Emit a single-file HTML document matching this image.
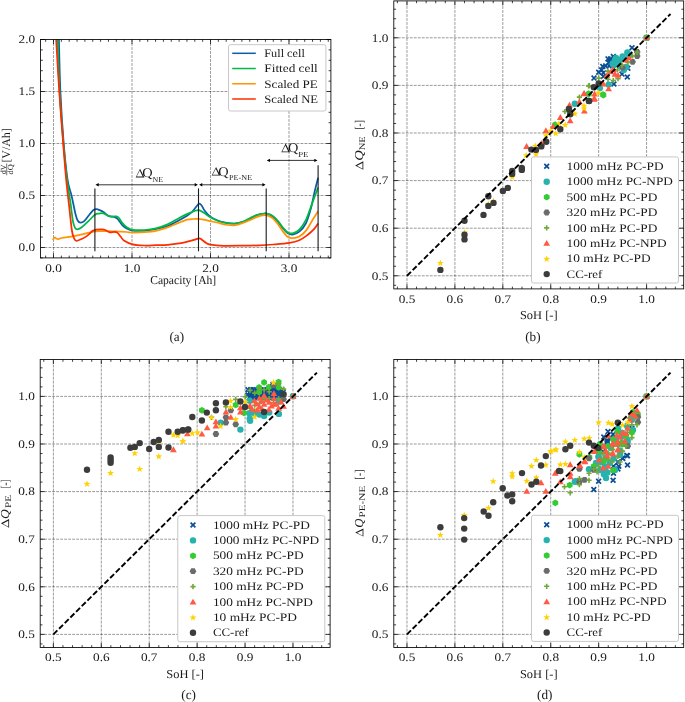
<!DOCTYPE html>
<html><head><meta charset="utf-8"><style>
html,body{margin:0;padding:0;background:#fff;}
svg{display:block;will-change:transform;}
svg text{font-family:"Liberation Serif", serif;text-rendering:geometricPrecision;}
</style></head><body>
<svg width="685" height="702" viewBox="0 0 685 702">
<rect width="685" height="702" fill="#fff"/>
<defs><clipPath id="ca"><rect x="40.5" y="39.5" width="290.4" height="218.4"/></clipPath></defs>
<g stroke="#000" stroke-opacity="0.5" stroke-width="0.8" stroke-dasharray="2.85 1.15"><line x1="53.5" y1="257.9" x2="53.5" y2="39.5"/><line x1="132" y1="257.9" x2="132" y2="39.5"/><line x1="210.5" y1="257.9" x2="210.5" y2="39.5"/><line x1="289" y1="257.9" x2="289" y2="39.5"/><line x1="40.5" y1="247.5" x2="330.9" y2="247.5"/><line x1="40.5" y1="195.5" x2="330.9" y2="195.5"/><line x1="40.5" y1="143.5" x2="330.9" y2="143.5"/><line x1="40.5" y1="91.5" x2="330.9" y2="91.5"/></g>
<g clip-path="url(#ca)"><path d="M58.6 20C58.65 23.13 58.6 26.85 58.9 38.8C59.2 50.75 59.6 74.25 60.4 91.7C61.2 109.15 62.5 128.78 63.7 143.5C64.9 158.22 66.32 171.42 67.6 180C68.88 188.58 70.07 189.25 71.4 195C72.73 200.75 74.53 210.22 75.6 214.5C76.67 218.78 76.98 219.35 77.8 220.7C78.62 222.05 79.43 222.53 80.5 222.6C81.57 222.67 82.7 222.45 84.2 221.1C85.7 219.75 87.95 216.35 89.5 214.5C91.05 212.65 92.33 210.88 93.5 210C94.67 209.12 95.42 209.15 96.5 209.2C97.58 209.25 98.85 209.83 100 210.3C101.15 210.77 101.93 211.05 103.4 212C104.87 212.95 107.02 215.18 108.8 216C110.58 216.82 112.68 216.47 114.1 216.9C115.52 217.33 116.32 217.75 117.3 218.6C118.28 219.45 119.13 220.88 120 222C120.87 223.12 121.38 224.22 122.5 225.3C123.62 226.38 125.03 227.62 126.7 228.5C128.37 229.38 129.58 230.22 132.5 230.6C135.42 230.98 140.3 231.07 144.2 230.8C148.1 230.53 152 229.78 155.9 229C159.8 228.22 163.72 227.55 167.6 226.1C171.48 224.65 175.9 222.05 179.2 220.3C182.5 218.55 185.27 216.98 187.4 215.6C189.53 214.22 190.57 213.43 192 212C193.43 210.57 194.8 208.4 196 207C197.2 205.6 198.28 203.88 199.2 203.6C200.12 203.32 200.55 204.07 201.5 205.3C202.45 206.53 203.43 209.12 204.9 211C206.37 212.88 208.27 215.07 210.3 216.6C212.33 218.13 214.62 219.18 217.1 220.2C219.58 221.22 222.27 222.13 225.2 222.7C228.13 223.27 231.55 223.78 234.7 223.6C237.85 223.42 241.4 222.5 244.1 221.6C246.8 220.7 248.63 219.33 250.9 218.2C253.17 217.07 255.43 215.58 257.7 214.8C259.97 214.02 262.78 213.63 264.5 213.5C266.22 213.37 266.57 213.42 268 214C269.43 214.58 271.43 215.68 273.1 217C274.77 218.32 276.37 220 278 221.9C279.63 223.8 281.27 226.5 282.9 228.4C284.53 230.3 286.17 232.27 287.8 233.3C289.43 234.33 290.78 234.87 292.7 234.6C294.62 234.33 297.12 233.55 299.3 231.7C301.48 229.85 303.88 227.32 305.8 223.5C307.72 219.68 309.28 214.3 310.8 208.8C312.32 203.3 313.68 195.68 314.9 190.5C316.12 185.32 317.57 179.83 318.1 177.7" stroke="#0C5DA5" stroke-width="1.75" fill="none" stroke-linejoin="round"/><path d="M57.4 20C57.43 23.13 57.23 26.85 57.6 38.8C57.97 50.75 58.63 74.25 59.6 91.7C60.57 109.15 62.15 128.78 63.4 143.5C64.65 158.22 65.95 170.35 67.1 180C68.25 189.65 69.32 194.48 70.3 201.4C71.28 208.32 72.18 217.07 73 221.5C73.82 225.93 74.48 226.7 75.2 228C75.92 229.3 76.15 229.47 77.3 229.3C78.45 229.13 80.23 228.37 82.1 227C83.97 225.63 86.37 223.15 88.5 221.1C90.63 219.05 93.12 215.95 94.9 214.7C96.68 213.45 97.78 213.82 99.2 213.6C100.62 213.38 101.8 212.97 103.4 213.4C105 213.83 107.2 215.68 108.8 216.2C110.4 216.72 111.72 216.47 113 216.5C114.28 216.53 115.5 216.15 116.5 216.4C117.5 216.65 118.08 216.97 119 218C119.92 219.03 120.72 221.08 122 222.6C123.28 224.12 124.95 225.9 126.7 227.1C128.45 228.3 129.58 229.32 132.5 229.8C135.42 230.28 140.3 230.23 144.2 230C148.1 229.77 152 229.33 155.9 228.4C159.8 227.47 163.72 226.13 167.6 224.4C171.48 222.67 175.9 219.75 179.2 218C182.5 216.25 184.92 215.03 187.4 213.9C189.88 212.77 192.2 211.83 194.1 211.2C196 210.57 197.23 209.87 198.8 210.1C200.37 210.33 201.58 211.4 203.5 212.6C205.42 213.8 208.03 215.98 210.3 217.3C212.57 218.62 214.62 219.58 217.1 220.5C219.58 221.42 222.27 222.3 225.2 222.8C228.13 223.3 231.55 223.77 234.7 223.5C237.85 223.23 241.4 222.2 244.1 221.2C246.8 220.2 248.63 218.57 250.9 217.5C253.17 216.43 255.43 215.47 257.7 214.8C259.97 214.13 262.78 213.65 264.5 213.5C266.22 213.35 266.57 213.47 268 213.9C269.43 214.33 271.43 214.92 273.1 216.1C274.77 217.28 276.37 219.08 278 221C279.63 222.92 281.27 225.7 282.9 227.6C284.53 229.5 286.17 231.45 287.8 232.4C289.43 233.35 290.78 233.75 292.7 233.3C294.62 232.85 297.12 231.88 299.3 229.7C301.48 227.52 303.88 223.97 305.8 220.2C307.72 216.43 309.28 211.13 310.8 207.1C312.32 203.07 313.68 199.27 314.9 196C316.12 192.73 317.57 188.92 318.1 187.5" stroke="#00B945" stroke-width="1.75" fill="none" stroke-linejoin="round"/><path d="M52.7 239.8C53.05 239.42 54.18 237.7 54.8 237.5C55.42 237.3 55.78 238.33 56.4 238.6C57.02 238.87 57.6 239.2 58.5 239.1C59.4 239 59.65 238.42 61.8 238C63.95 237.58 68.02 237.22 71.4 236.6C74.78 235.98 78.55 235.1 82.1 234.3C85.65 233.5 90.03 232.33 92.7 231.8C95.37 231.27 95.42 231.22 98.1 231.1C100.78 230.98 105.98 231.05 108.8 231.1C111.62 231.15 112.02 231.25 115 231.4C117.98 231.55 123.78 231.82 126.7 232C129.62 232.18 129.58 232.47 132.5 232.5C135.42 232.53 140.3 232.48 144.2 232.2C148.1 231.92 152 231.62 155.9 230.8C159.8 229.98 163.72 228.67 167.6 227.3C171.48 225.93 175.9 223.87 179.2 222.6C182.5 221.33 185.1 220.3 187.4 219.7C189.7 219.1 191.22 219.13 193 219C194.78 218.87 196.35 218.8 198.1 218.9C199.85 219 201.47 219.22 203.5 219.6C205.53 219.98 208.03 220.72 210.3 221.2C212.57 221.68 214.62 221.93 217.1 222.5C219.58 223.07 222.27 224.12 225.2 224.6C228.13 225.08 231.55 225.75 234.7 225.4C237.85 225.05 241.4 223.47 244.1 222.5C246.8 221.53 248.63 220.58 250.9 219.6C253.17 218.62 255.43 217.33 257.7 216.6C259.97 215.87 262.78 215.37 264.5 215.2C266.22 215.03 266.57 215.03 268 215.6C269.43 216.17 271.43 217.15 273.1 218.6C274.77 220.05 276.37 222.15 278 224.3C279.63 226.45 281.27 229.38 282.9 231.5C284.53 233.62 286.17 235.88 287.8 237C289.43 238.12 290.78 238.27 292.7 238.2C294.62 238.13 297.12 237.82 299.3 236.6C301.48 235.38 303.62 233.63 305.8 230.9C307.98 228.17 310.35 223.48 312.4 220.2C314.45 216.92 317.15 212.7 318.1 211.2" stroke="#FF9500" stroke-width="1.75" fill="none" stroke-linejoin="round"/><path d="M55.8 20C55.85 23.13 55.52 26.85 56.1 38.8C56.68 50.75 58.12 74.25 59.3 91.7C60.48 109.15 62.05 128.78 63.2 143.5C64.35 158.22 65.2 169.47 66.2 180C67.2 190.53 68.25 198.28 69.2 206.7C70.15 215.12 71.1 225.23 71.9 230.5C72.7 235.77 73.2 236.58 74 238.3C74.8 240.02 75.35 240.72 76.7 240.8C78.05 240.88 80.32 239.67 82.1 238.8C83.88 237.93 85.63 236.93 87.4 235.6C89.17 234.27 91.27 231.78 92.7 230.8C94.13 229.82 94.38 229.93 96 229.7C97.62 229.47 100.8 229.32 102.4 229.4C104 229.48 104.37 229.7 105.6 230.2C106.83 230.7 108.38 232.1 109.8 232.4C111.22 232.7 112.85 231.97 114.1 232C115.35 232.03 116.18 231.8 117.3 232.6C118.42 233.4 119.63 235.43 120.8 236.8C121.97 238.17 122.35 239.53 124.3 240.8C126.25 242.07 129.18 243.62 132.5 244.4C135.82 245.18 140.3 245.37 144.2 245.5C148.1 245.63 152 245.32 155.9 245.2C159.8 245.08 163.72 245.1 167.6 244.8C171.48 244.5 175.9 243.92 179.2 243.4C182.5 242.88 184.92 242.28 187.4 241.7C189.88 241.12 192.13 240.47 194.1 239.9C196.07 239.33 197.85 238.3 199.2 238.3C200.55 238.3 201.03 239.12 202.2 239.9C203.37 240.68 204.85 242.2 206.2 243C207.55 243.8 207.37 244.23 210.3 244.7C213.23 245.17 218.17 245.65 223.8 245.8C229.43 245.95 238.07 245.67 244.1 245.6C250.13 245.53 255.17 245.58 260 245.4C264.83 245.22 268.18 244.93 273.1 244.5C278.02 244.07 285.13 243.52 289.5 242.8C293.87 242.08 296.3 241.5 299.3 240.2C302.3 238.9 305.05 236.83 307.5 235C309.95 233.17 312.23 231.12 314 229.2C315.77 227.28 317.42 224.45 318.1 223.5" stroke="#FF2C00" stroke-width="1.75" fill="none" stroke-linejoin="round"/></g>
<line x1="94.9" y1="188.4" x2="94.9" y2="251.3" stroke="#1a1a1a" stroke-width="1.1" />
<line x1="198.5" y1="188.4" x2="198.5" y2="251.3" stroke="#1a1a1a" stroke-width="1.1" />
<line x1="266.2" y1="188.4" x2="266.2" y2="251.3" stroke="#1a1a1a" stroke-width="1.1" />
<line x1="318.1" y1="165.2" x2="318.1" y2="251.3" stroke="#1a1a1a" stroke-width="1.1" />
<line x1="97.4" y1="184.8" x2="196" y2="184.8" stroke="#000" stroke-width="0.8" />
<path d="M95.5 184.8L98.7 183.1L98.7 186.5Z M197.9 184.8L194.7 183.1L194.7 186.5Z" fill="#000"/>
<line x1="201" y1="184.8" x2="263.7" y2="184.8" stroke="#000" stroke-width="0.8" />
<path d="M199.1 184.8L202.3 183.1L202.3 186.5Z M265.6 184.8L262.4 183.1L262.4 186.5Z" fill="#000"/>
<line x1="268.7" y1="160.4" x2="315.6" y2="160.4" stroke="#000" stroke-width="0.8" />
<path d="M266.8 160.4L270 158.7L270 162.1Z M317.5 160.4L314.3 158.7L314.3 162.1Z" fill="#000"/>
<path d="M135.7 177.4L144.4 177.4L140.05 168.7ZM136.65 176.6L142.65 176.6L139.75 170.6Z" fill="#1a1a1a" fill-rule="evenodd"/>
<text x="142.3" y="177.4" font-size="13.2" fill="#1a1a1a" textLength="10.4" lengthAdjust="spacingAndGlyphs">Q</text>
<text x="152.6" y="181.6" font-size="7.8" fill="#1a1a1a" textLength="10.5" lengthAdjust="spacingAndGlyphs">NE</text>
<path d="M211.7 175.6L220.4 175.6L216.05 166.9ZM212.65 174.8L218.65 174.8L215.75 168.8Z" fill="#1a1a1a" fill-rule="evenodd"/>
<text x="218.3" y="175.6" font-size="13.2" fill="#1a1a1a" textLength="10.4" lengthAdjust="spacingAndGlyphs">Q</text>
<text x="229.1" y="180.3" font-size="7.8" fill="#1a1a1a" textLength="23" lengthAdjust="spacingAndGlyphs">PE-NE</text>
<path d="M281.3 152.3L290 152.3L285.65 143.6ZM282.25 151.5L288.25 151.5L285.35 145.5Z" fill="#1a1a1a" fill-rule="evenodd"/>
<text x="288" y="152.3" font-size="13.2" fill="#1a1a1a" textLength="10.4" lengthAdjust="spacingAndGlyphs">Q</text>
<text x="298.2" y="156.9" font-size="7.8" fill="#1a1a1a" textLength="10.3" lengthAdjust="spacingAndGlyphs">PE</text>
<path d="M53.5 257.9v-4.5M53.5 39.5v4.5M132 257.9v-4.5M132 39.5v4.5M210.5 257.9v-4.5M210.5 39.5v4.5M289 257.9v-4.5M289 39.5v4.5M45.65 257.9v-2.3M45.65 39.5v2.3M61.35 257.9v-2.3M61.35 39.5v2.3M69.2 257.9v-2.3M69.2 39.5v2.3M77.05 257.9v-2.3M77.05 39.5v2.3M84.9 257.9v-2.3M84.9 39.5v2.3M92.75 257.9v-2.3M92.75 39.5v2.3M100.6 257.9v-2.3M100.6 39.5v2.3M108.45 257.9v-2.3M108.45 39.5v2.3M116.3 257.9v-2.3M116.3 39.5v2.3M124.15 257.9v-2.3M124.15 39.5v2.3M139.85 257.9v-2.3M139.85 39.5v2.3M147.7 257.9v-2.3M147.7 39.5v2.3M155.55 257.9v-2.3M155.55 39.5v2.3M163.4 257.9v-2.3M163.4 39.5v2.3M171.25 257.9v-2.3M171.25 39.5v2.3M179.1 257.9v-2.3M179.1 39.5v2.3M186.95 257.9v-2.3M186.95 39.5v2.3M194.8 257.9v-2.3M194.8 39.5v2.3M202.65 257.9v-2.3M202.65 39.5v2.3M218.35 257.9v-2.3M218.35 39.5v2.3M226.2 257.9v-2.3M226.2 39.5v2.3M234.05 257.9v-2.3M234.05 39.5v2.3M241.9 257.9v-2.3M241.9 39.5v2.3M249.75 257.9v-2.3M249.75 39.5v2.3M257.6 257.9v-2.3M257.6 39.5v2.3M265.45 257.9v-2.3M265.45 39.5v2.3M273.3 257.9v-2.3M273.3 39.5v2.3M281.15 257.9v-2.3M281.15 39.5v2.3M296.85 257.9v-2.3M296.85 39.5v2.3M304.7 257.9v-2.3M304.7 39.5v2.3M312.55 257.9v-2.3M312.55 39.5v2.3M320.4 257.9v-2.3M320.4 39.5v2.3M328.25 257.9v-2.3M328.25 39.5v2.3M40.5 247.5h4.5M330.9 247.5h-4.5M40.5 195.5h4.5M330.9 195.5h-4.5M40.5 143.5h4.5M330.9 143.5h-4.5M40.5 91.5h4.5M330.9 91.5h-4.5M40.5 39.5h4.5M330.9 39.5h-4.5M40.5 257.9h2.3M330.9 257.9h-2.3M40.5 237.1h2.3M330.9 237.1h-2.3M40.5 226.7h2.3M330.9 226.7h-2.3M40.5 216.3h2.3M330.9 216.3h-2.3M40.5 205.9h2.3M330.9 205.9h-2.3M40.5 185.1h2.3M330.9 185.1h-2.3M40.5 174.7h2.3M330.9 174.7h-2.3M40.5 164.3h2.3M330.9 164.3h-2.3M40.5 153.9h2.3M330.9 153.9h-2.3M40.5 133.1h2.3M330.9 133.1h-2.3M40.5 122.7h2.3M330.9 122.7h-2.3M40.5 112.3h2.3M330.9 112.3h-2.3M40.5 101.9h2.3M330.9 101.9h-2.3M40.5 81.1h2.3M330.9 81.1h-2.3M40.5 70.7h2.3M330.9 70.7h-2.3M40.5 60.3h2.3M330.9 60.3h-2.3M40.5 49.9h2.3M330.9 49.9h-2.3" stroke="#000" stroke-width="0.75" fill="none"/>
<rect x="40.5" y="39.5" width="290.4" height="218.4" fill="none" stroke="#000" stroke-width="0.85"/>
<text x="53.5" y="271.5" font-size="11.6" text-anchor="middle" fill="#1a1a1a" textLength="16.6" lengthAdjust="spacingAndGlyphs" >0.0</text>
<text x="132" y="271.5" font-size="11.6" text-anchor="middle" fill="#1a1a1a" textLength="16.6" lengthAdjust="spacingAndGlyphs" >1.0</text>
<text x="210.5" y="271.5" font-size="11.6" text-anchor="middle" fill="#1a1a1a" textLength="16.6" lengthAdjust="spacingAndGlyphs" >2.0</text>
<text x="289" y="271.5" font-size="11.6" text-anchor="middle" fill="#1a1a1a" textLength="16.6" lengthAdjust="spacingAndGlyphs" >3.0</text>
<text x="35.1" y="251.4" font-size="11.6" text-anchor="end" fill="#1a1a1a" textLength="16.6" lengthAdjust="spacingAndGlyphs" >0.0</text>
<text x="35.1" y="199.4" font-size="11.6" text-anchor="end" fill="#1a1a1a" textLength="16.6" lengthAdjust="spacingAndGlyphs" >0.5</text>
<text x="35.1" y="147.4" font-size="11.6" text-anchor="end" fill="#1a1a1a" textLength="16.6" lengthAdjust="spacingAndGlyphs" >1.0</text>
<text x="35.1" y="95.4" font-size="11.6" text-anchor="end" fill="#1a1a1a" textLength="16.6" lengthAdjust="spacingAndGlyphs" >1.5</text>
<text x="35.1" y="43.4" font-size="11.6" text-anchor="end" fill="#1a1a1a" textLength="16.6" lengthAdjust="spacingAndGlyphs" >2.0</text>
<rect x="228.5" y="44.7" width="97.4" height="66.3" rx="2" fill="#fff" stroke="#c8c8c8" stroke-width="1"/>
<line x1="232.2" y1="53.3" x2="255.8" y2="53.3" stroke="#0C5DA5" stroke-width="1.5" />
<text x="264.3" y="57.1" font-size="11.5" text-anchor="start" fill="#1a1a1a" textLength="40.5" lengthAdjust="spacingAndGlyphs" >Full cell</text>
<line x1="232.2" y1="68.53" x2="255.8" y2="68.53" stroke="#00B945" stroke-width="1.5" />
<text x="264.3" y="72.33" font-size="11.5" text-anchor="start" fill="#1a1a1a" textLength="53.5" lengthAdjust="spacingAndGlyphs" >Fitted cell</text>
<line x1="232.2" y1="83.76" x2="255.8" y2="83.76" stroke="#FF9500" stroke-width="1.5" />
<text x="264.3" y="87.56" font-size="11.5" text-anchor="start" fill="#1a1a1a" textLength="53.5" lengthAdjust="spacingAndGlyphs" >Scaled PE</text>
<line x1="232.2" y1="98.99" x2="255.8" y2="98.99" stroke="#FF2C00" stroke-width="1.5" />
<text x="264.3" y="102.79" font-size="11.5" text-anchor="start" fill="#1a1a1a" textLength="53.8" lengthAdjust="spacingAndGlyphs" >Scaled NE</text>
<text x="183.2" y="284.2" font-size="12" text-anchor="middle" fill="#1a1a1a" textLength="66" lengthAdjust="spacingAndGlyphs" >Capacity [Ah]</text>
<g transform="translate(10.3,162.6) rotate(-90)"><text x="0" y="0" font-size="11.8" fill="#1a1a1a" textLength="34.3" lengthAdjust="spacingAndGlyphs">[V/Ah]</text></g>
<g transform="translate(6.7,169.4) rotate(-90)" fill="#1a1a1a"><text x="0" y="-1.2" font-size="7.8" text-anchor="middle" textLength="9.6" lengthAdjust="spacingAndGlyphs">dV</text><text x="0" y="6.6" font-size="7.8" text-anchor="middle" textLength="10.2" lengthAdjust="spacingAndGlyphs">dQ</text><line x1="-5.9" y1="0" x2="5.9" y2="0" stroke="#1a1a1a" stroke-width="0.6"/></g>
<text x="176.75" y="341.2" font-size="13.2" text-anchor="middle" fill="#1a1a1a" >(a)</text>
<defs><clipPath id="cb"><rect x="393.8" y="0.9" width="289.9" height="288.0"/></clipPath></defs>
<g stroke="#000" stroke-opacity="0.5" stroke-width="0.8" stroke-dasharray="2.85 1.15"><line x1="406.98" y1="288.9" x2="406.98" y2="0.9"/><line x1="454.9" y1="288.9" x2="454.9" y2="0.9"/><line x1="502.82" y1="288.9" x2="502.82" y2="0.9"/><line x1="550.74" y1="288.9" x2="550.74" y2="0.9"/><line x1="598.66" y1="288.9" x2="598.66" y2="0.9"/><line x1="646.58" y1="288.9" x2="646.58" y2="0.9"/><line x1="393.8" y1="275.79" x2="683.7" y2="275.79"/><line x1="393.8" y1="228.19" x2="683.7" y2="228.19"/><line x1="393.8" y1="180.59" x2="683.7" y2="180.59"/><line x1="393.8" y1="132.99" x2="683.7" y2="132.99"/><line x1="393.8" y1="85.39" x2="683.7" y2="85.39"/><line x1="393.8" y1="37.79" x2="683.7" y2="37.79"/></g>
<g clip-path="url(#cb)"><path d="M591.6 75.7L596.4 80.5M591.6 80.5L596.4 75.7" stroke="#0B4E96" stroke-width="1.7" fill="none"/><path d="M596.3 69.9L601.1 74.7M596.3 74.7L601.1 69.9" stroke="#0B4E96" stroke-width="1.7" fill="none"/><path d="M600.4 64.1L605.2 68.9M600.4 68.9L605.2 64.1" stroke="#0B4E96" stroke-width="1.7" fill="none"/><path d="M601 70.5L605.8 75.3M601 75.3L605.8 70.5" stroke="#0B4E96" stroke-width="1.7" fill="none"/><path d="M605.6 56.5L610.4 61.3M605.6 61.3L610.4 56.5" stroke="#0B4E96" stroke-width="1.7" fill="none"/><path d="M606.2 60L611 64.8M606.2 64.8L611 60" stroke="#0B4E96" stroke-width="1.7" fill="none"/><path d="M610.9 54.1L615.7 58.9M610.9 58.9L615.7 54.1" stroke="#0B4E96" stroke-width="1.7" fill="none"/><path d="M609.1 61.1L613.9 65.9M609.1 65.9L613.9 61.1" stroke="#0B4E96" stroke-width="1.7" fill="none"/><path d="M603.3 63.5L608.1 68.3M603.3 68.3L608.1 63.5" stroke="#0B4E96" stroke-width="1.7" fill="none"/><path d="M601 74L605.8 78.8M601 78.8L605.8 74" stroke="#0B4E96" stroke-width="1.7" fill="none"/><path d="M611.5 81.6L616.3 86.4M611.5 86.4L616.3 81.6" stroke="#0B4E96" stroke-width="1.7" fill="none"/><path d="M619.6 71.7L624.4 76.5M619.6 76.5L624.4 71.7" stroke="#0B4E96" stroke-width="1.7" fill="none"/><path d="M624.9 74.6L629.7 79.4M624.9 79.4L629.7 74.6" stroke="#0B4E96" stroke-width="1.7" fill="none"/><path d="M625.5 65.8L630.3 70.6M625.5 70.6L630.3 65.8" stroke="#0B4E96" stroke-width="1.7" fill="none"/><path d="M629.6 45.4L634.4 50.2M629.6 50.2L634.4 45.4" stroke="#0B4E96" stroke-width="1.7" fill="none"/><path d="M599.2 67.6L604 72.4M599.2 72.4L604 67.6" stroke="#0B4E96" stroke-width="1.7" fill="none"/><path d="M606.8 63.5L611.6 68.3M606.8 68.3L611.6 63.5" stroke="#0B4E96" stroke-width="1.7" fill="none"/><path d="M608 56.5L612.8 61.3M608 61.3L612.8 56.5" stroke="#0B4E96" stroke-width="1.7" fill="none"/><path d="M644.2 35.4L649 40.2M644.2 40.2L649 35.4" stroke="#0B4E96" stroke-width="1.7" fill="none"/><circle cx="574.8" cy="103.7" r="3.2" fill="#26B3B0"/><circle cx="615" cy="60" r="3.2" fill="#26B3B0"/><circle cx="618.5" cy="61.2" r="3.2" fill="#26B3B0"/><circle cx="622.6" cy="56.5" r="3.2" fill="#26B3B0"/><circle cx="627.3" cy="52.4" r="3.2" fill="#26B3B0"/><circle cx="623.8" cy="70" r="3.2" fill="#26B3B0"/><circle cx="608.6" cy="84.6" r="3.2" fill="#26B3B0"/><circle cx="613.9" cy="65.3" r="3.2" fill="#26B3B0"/><circle cx="599.9" cy="88.1" r="3.2" fill="#26B3B0"/><circle cx="619.7" cy="60" r="3.2" fill="#26B3B0"/><circle cx="629.1" cy="55.4" r="3.2" fill="#26B3B0"/><circle cx="626.1" cy="67" r="3.2" fill="#26B3B0"/><circle cx="612.7" cy="63.5" r="3.2" fill="#26B3B0"/><circle cx="616" cy="58" r="3.2" fill="#26B3B0"/><circle cx="620" cy="66" r="3.2" fill="#26B3B0"/><circle cx="646.6" cy="37.8" r="3.2" fill="#26B3B0"/><polygon points="555.1,121.35 552.2,123.03 552.2,126.38 555.1,128.05 558,126.38 558,123.03" fill="#33CC33"/><polygon points="569.5,107.55 566.6,109.23 566.6,112.58 569.5,114.25 572.4,112.58 572.4,109.23" fill="#33CC33"/><polygon points="588.6,90.45 585.7,92.12 585.7,95.47 588.6,97.15 591.5,95.47 591.5,92.12" fill="#33CC33"/><polygon points="603,91.15 600.1,92.83 600.1,96.17 603,97.85 605.9,96.17 605.9,92.83" fill="#33CC33"/><polygon points="603.4,91.75 600.5,93.42 600.5,96.77 603.4,98.45 606.3,96.77 606.3,93.42" fill="#33CC33"/><polygon points="588.8,90.55 585.9,92.23 585.9,95.58 588.8,97.25 591.7,95.58 591.7,92.23" fill="#33CC33"/><polygon points="646.6,34.45 643.7,36.12 643.7,39.47 646.6,41.15 649.5,39.48 649.5,36.12" fill="#33CC33"/><polygon points="640.55,51.9 638.88,49 635.53,49 633.85,51.9 635.53,54.8 638.88,54.8" fill="#6B6B6B"/><polygon points="640.55,56 638.88,53.1 635.53,53.1 633.85,56 635.53,58.9 638.88,58.9" fill="#6B6B6B"/><polygon points="635.95,61.8 634.27,58.9 630.93,58.9 629.25,61.8 630.93,64.7 634.27,64.7" fill="#6B6B6B"/><polygon points="625.95,67.6 624.27,64.7 620.93,64.7 619.25,67.6 620.93,70.5 624.27,70.5" fill="#6B6B6B"/><path d="M562.3 111.5h5.2M564.9 108.9v5.2" stroke="#72A83A" stroke-width="1.6" fill="none"/><path d="M576.8 97.1h5.2M579.4 94.5v5.2" stroke="#72A83A" stroke-width="1.6" fill="none"/><path d="M586 85.9h5.2M588.6 83.3v5.2" stroke="#72A83A" stroke-width="1.6" fill="none"/><path d="M596.1 78.1h5.2M598.7 75.5v5.2" stroke="#72A83A" stroke-width="1.6" fill="none"/><path d="M605.4 71.1h5.2M608 68.5v5.2" stroke="#72A83A" stroke-width="1.6" fill="none"/><path d="M605.4 79.3h5.2M608 76.7v5.2" stroke="#72A83A" stroke-width="1.6" fill="none"/><path d="M610.7 80.5h5.2M613.3 77.9v5.2" stroke="#72A83A" stroke-width="1.6" fill="none"/><path d="M615.4 78.7h5.2M618 76.1v5.2" stroke="#72A83A" stroke-width="1.6" fill="none"/><path d="M614.8 70h5.2M617.4 67.4v5.2" stroke="#72A83A" stroke-width="1.6" fill="none"/><path d="M619.4 65.3h5.2M622 62.7v5.2" stroke="#72A83A" stroke-width="1.6" fill="none"/><path d="M625.3 62.4h5.2M627.9 59.8v5.2" stroke="#72A83A" stroke-width="1.6" fill="none"/><path d="M630 56h5.2M632.6 53.4v5.2" stroke="#72A83A" stroke-width="1.6" fill="none"/><path d="M634.6 52.4h5.2M637.2 49.8v5.2" stroke="#72A83A" stroke-width="1.6" fill="none"/><path d="M586.7 85.7h5.2M589.3 83.1v5.2" stroke="#72A83A" stroke-width="1.6" fill="none"/><path d="M644 37.8h5.2M646.6 35.2v5.2" stroke="#72A83A" stroke-width="1.6" fill="none"/><polygon points="526.6,143.1 523.22,148.95 529.98,148.95" fill="#FF5A43"/><polygon points="541.9,139.8 538.52,145.65 545.28,145.65" fill="#FF5A43"/><polygon points="545.9,127.3 542.52,133.15 549.28,133.15" fill="#FF5A43"/><polygon points="553,123.2 549.62,129.05 556.38,129.05" fill="#FF5A43"/><polygon points="560.3,114.1 556.92,119.95 563.68,119.95" fill="#FF5A43"/><polygon points="570.2,117.4 566.82,123.25 573.58,123.25" fill="#FF5A43"/><polygon points="569.5,101.7 566.12,107.55 572.88,107.55" fill="#FF5A43"/><polygon points="579.4,98.4 576.02,104.25 582.78,104.25" fill="#FF5A43"/><polygon points="584.4,107.6 581.02,113.45 587.78,113.45" fill="#FF5A43"/><polygon points="584,90.5 580.62,96.35 587.38,96.35" fill="#FF5A43"/><polygon points="593.8,95.8 590.42,101.65 597.18,101.65" fill="#FF5A43"/><polygon points="613.3,66.1 609.92,71.95 616.68,71.95" fill="#FF5A43"/><polygon points="606.9,71.9 603.52,77.75 610.28,77.75" fill="#FF5A43"/><polygon points="618,71.9 614.62,77.75 621.38,77.75" fill="#FF5A43"/><polygon points="603.4,80.7 600.02,86.55 606.78,86.55" fill="#FF5A43"/><polygon points="629.1,54.4 625.72,60.25 632.48,60.25" fill="#FF5A43"/><polygon points="608.6,85.4 605.22,91.25 611.98,91.25" fill="#FF5A43"/><polygon points="594.6,90.6 591.22,96.45 597.98,96.45" fill="#FF5A43"/><polygon points="584.1,90 580.72,95.85 587.48,95.85" fill="#FF5A43"/><polygon points="594.6,95.3 591.22,101.15 597.98,101.15" fill="#FF5A43"/><polygon points="611,68.4 607.62,74.25 614.38,74.25" fill="#FF5A43"/><polygon points="615,70.8 611.62,76.65 618.38,76.65" fill="#FF5A43"/><polygon points="625.5,56.7 622.12,62.55 628.88,62.55" fill="#FF5A43"/><polygon points="646.6,34.5 643.22,40.35 649.98,40.35" fill="#FF5A43"/><polygon points="440.4,259.5 439.52,261.89 436.98,261.99 438.97,263.56 438.28,266.01 440.4,264.6 442.52,266.01 441.83,263.56 443.82,261.99 441.28,261.89" fill="#FFD200"/><polygon points="464.5,229.1 463.62,231.49 461.08,231.59 463.07,233.16 462.38,235.61 464.5,234.2 466.62,235.61 465.93,233.16 467.92,231.59 465.38,231.49" fill="#FFD200"/><polygon points="488.3,200.6 487.42,202.99 484.88,203.09 486.87,204.66 486.18,207.11 488.3,205.7 490.42,207.11 489.73,204.66 491.72,203.09 489.18,202.99" fill="#FFD200"/><polygon points="493.5,197.6 492.62,199.99 490.08,200.09 492.07,201.66 491.38,204.11 493.5,202.7 495.62,204.11 494.93,201.66 496.92,200.09 494.38,199.99" fill="#FFD200"/><polygon points="512.2,173.6 511.32,175.99 508.78,176.09 510.77,177.66 510.08,180.11 512.2,178.7 514.32,180.11 513.63,177.66 515.62,176.09 513.08,175.99" fill="#FFD200"/><polygon points="526.2,151.9 525.32,154.29 522.78,154.39 524.77,155.96 524.08,158.41 526.2,157 528.32,158.41 527.63,155.96 529.62,154.39 527.08,154.29" fill="#FFD200"/><polygon points="536,150.9 535.12,153.29 532.58,153.39 534.57,154.96 533.88,157.41 536,156 538.12,157.41 537.43,154.96 539.42,153.39 536.88,153.29" fill="#FFD200"/><polygon points="535.4,142.4 534.52,144.79 531.98,144.89 533.97,146.46 533.28,148.91 535.4,147.5 537.52,148.91 536.83,146.46 538.82,144.89 536.28,144.79" fill="#FFD200"/><polygon points="545.9,131.9 545.02,134.29 542.48,134.39 544.47,135.96 543.78,138.41 545.9,137 548.02,138.41 547.33,135.96 549.32,134.39 546.78,134.29" fill="#FFD200"/><polygon points="550.5,127.3 549.62,129.69 547.08,129.79 549.07,131.36 548.38,133.81 550.5,132.4 552.62,133.81 551.93,131.36 553.92,129.79 551.38,129.69" fill="#FFD200"/><polygon points="555.7,129.9 554.82,132.29 552.28,132.39 554.27,133.96 553.58,136.41 555.7,135 557.82,136.41 557.13,133.96 559.12,132.39 556.58,132.29" fill="#FFD200"/><polygon points="559,120.1 558.12,122.49 555.58,122.59 557.57,124.16 556.88,126.61 559,125.2 561.12,126.61 560.43,124.16 562.42,122.59 559.88,122.49" fill="#FFD200"/><polygon points="565.2,121.4 564.32,123.79 561.78,123.89 563.77,125.46 563.08,127.91 565.2,126.5 567.32,127.91 566.63,125.46 568.62,123.89 566.08,123.79" fill="#FFD200"/><polygon points="574.8,110.2 573.92,112.59 571.38,112.69 573.37,114.26 572.68,116.71 574.8,115.3 576.92,116.71 576.23,114.26 578.22,112.69 575.68,112.59" fill="#FFD200"/><polygon points="584,102.3 583.12,104.69 580.58,104.79 582.57,106.36 581.88,108.81 584,107.4 586.12,108.81 585.43,106.36 587.42,104.79 584.88,104.69" fill="#FFD200"/><polygon points="584,105 583.12,107.39 580.58,107.49 582.57,109.06 581.88,111.51 584,110.1 586.12,111.51 585.43,109.06 587.42,107.49 584.88,107.39" fill="#FFD200"/><polygon points="598.4,89.2 597.52,91.59 594.98,91.69 596.97,93.26 596.28,95.71 598.4,94.3 600.52,95.71 599.83,93.26 601.82,91.69 599.28,91.59" fill="#FFD200"/><circle cx="440.4" cy="269.9" r="3.2" fill="#3C3C3C"/><circle cx="464.5" cy="220.8" r="3.2" fill="#3C3C3C"/><circle cx="464.5" cy="234.8" r="3.2" fill="#3C3C3C"/><circle cx="464.5" cy="239.4" r="3.2" fill="#3C3C3C"/><circle cx="483.5" cy="214.9" r="3.2" fill="#3C3C3C"/><circle cx="488.3" cy="196.3" r="3.2" fill="#3C3C3C"/><circle cx="488.3" cy="205.9" r="3.2" fill="#3C3C3C"/><circle cx="493.5" cy="202.9" r="3.2" fill="#3C3C3C"/><circle cx="502.9" cy="190.9" r="3.2" fill="#3C3C3C"/><circle cx="507.8" cy="187.9" r="3.2" fill="#3C3C3C"/><circle cx="512.2" cy="170.9" r="3.2" fill="#3C3C3C"/><circle cx="512.2" cy="173.9" r="3.2" fill="#3C3C3C"/><circle cx="521.8" cy="167.9" r="3.2" fill="#3C3C3C"/><circle cx="521.8" cy="169.9" r="3.2" fill="#3C3C3C"/><circle cx="531.4" cy="149.6" r="3.2" fill="#3C3C3C"/><circle cx="536" cy="149.9" r="3.2" fill="#3C3C3C"/><circle cx="541.3" cy="146.4" r="3.2" fill="#3C3C3C"/><circle cx="546.3" cy="141.8" r="3.2" fill="#3C3C3C"/><circle cx="560.3" cy="129.3" r="3.2" fill="#3C3C3C"/><circle cx="568.9" cy="108.9" r="3.2" fill="#3C3C3C"/><circle cx="570.2" cy="114.2" r="3.2" fill="#3C3C3C"/><circle cx="589.2" cy="101" r="3.2" fill="#3C3C3C"/><circle cx="593.8" cy="87.2" r="3.2" fill="#3C3C3C"/><circle cx="598.7" cy="83.4" r="3.2" fill="#3C3C3C"/><circle cx="588.8" cy="100.9" r="3.2" fill="#3C3C3C"/></g>
<line x1="406.98" y1="275.79" x2="670.54" y2="13.99" stroke="#000" stroke-width="1.9" stroke-dasharray="5.6 2.4"/>
<path d="M406.98 288.9v-4.5M406.98 0.9v4.5M454.9 288.9v-4.5M454.9 0.9v4.5M502.82 288.9v-4.5M502.82 0.9v4.5M550.74 288.9v-4.5M550.74 0.9v4.5M598.66 288.9v-4.5M598.66 0.9v4.5M646.58 288.9v-4.5M646.58 0.9v4.5M397.39 288.9v-2.3M397.39 0.9v2.3M416.56 288.9v-2.3M416.56 0.9v2.3M426.15 288.9v-2.3M426.15 0.9v2.3M435.73 288.9v-2.3M435.73 0.9v2.3M445.31 288.9v-2.3M445.31 0.9v2.3M464.48 288.9v-2.3M464.48 0.9v2.3M474.07 288.9v-2.3M474.07 0.9v2.3M483.65 288.9v-2.3M483.65 0.9v2.3M493.23 288.9v-2.3M493.23 0.9v2.3M512.4 288.9v-2.3M512.4 0.9v2.3M521.99 288.9v-2.3M521.99 0.9v2.3M531.57 288.9v-2.3M531.57 0.9v2.3M541.15 288.9v-2.3M541.15 0.9v2.3M560.32 288.9v-2.3M560.32 0.9v2.3M569.91 288.9v-2.3M569.91 0.9v2.3M579.49 288.9v-2.3M579.49 0.9v2.3M589.07 288.9v-2.3M589.07 0.9v2.3M608.24 288.9v-2.3M608.24 0.9v2.3M617.83 288.9v-2.3M617.83 0.9v2.3M627.41 288.9v-2.3M627.41 0.9v2.3M636.99 288.9v-2.3M636.99 0.9v2.3M656.16 288.9v-2.3M656.16 0.9v2.3M665.75 288.9v-2.3M665.75 0.9v2.3M675.33 288.9v-2.3M675.33 0.9v2.3M393.8 275.79h4.5M683.7 275.79h-4.5M393.8 228.19h4.5M683.7 228.19h-4.5M393.8 180.59h4.5M683.7 180.59h-4.5M393.8 132.99h4.5M683.7 132.99h-4.5M393.8 85.39h4.5M683.7 85.39h-4.5M393.8 37.79h4.5M683.7 37.79h-4.5M393.8 285.31h2.3M683.7 285.31h-2.3M393.8 266.27h2.3M683.7 266.27h-2.3M393.8 256.75h2.3M683.7 256.75h-2.3M393.8 247.23h2.3M683.7 247.23h-2.3M393.8 237.71h2.3M683.7 237.71h-2.3M393.8 218.67h2.3M683.7 218.67h-2.3M393.8 209.15h2.3M683.7 209.15h-2.3M393.8 199.63h2.3M683.7 199.63h-2.3M393.8 190.11h2.3M683.7 190.11h-2.3M393.8 171.07h2.3M683.7 171.07h-2.3M393.8 161.55h2.3M683.7 161.55h-2.3M393.8 152.03h2.3M683.7 152.03h-2.3M393.8 142.51h2.3M683.7 142.51h-2.3M393.8 123.47h2.3M683.7 123.47h-2.3M393.8 113.95h2.3M683.7 113.95h-2.3M393.8 104.43h2.3M683.7 104.43h-2.3M393.8 94.91h2.3M683.7 94.91h-2.3M393.8 75.87h2.3M683.7 75.87h-2.3M393.8 66.35h2.3M683.7 66.35h-2.3M393.8 56.83h2.3M683.7 56.83h-2.3M393.8 47.31h2.3M683.7 47.31h-2.3M393.8 28.27h2.3M683.7 28.27h-2.3M393.8 18.75h2.3M683.7 18.75h-2.3M393.8 9.23h2.3M683.7 9.23h-2.3" stroke="#000" stroke-width="0.75" fill="none"/>
<rect x="393.8" y="0.9" width="289.9" height="288" fill="none" stroke="#000" stroke-width="0.85"/>
<text x="406.98" y="302.5" font-size="11.6" text-anchor="middle" fill="#1a1a1a" textLength="16.6" lengthAdjust="spacingAndGlyphs" >0.5</text>
<text x="454.9" y="302.5" font-size="11.6" text-anchor="middle" fill="#1a1a1a" textLength="16.6" lengthAdjust="spacingAndGlyphs" >0.6</text>
<text x="502.82" y="302.5" font-size="11.6" text-anchor="middle" fill="#1a1a1a" textLength="16.6" lengthAdjust="spacingAndGlyphs" >0.7</text>
<text x="550.74" y="302.5" font-size="11.6" text-anchor="middle" fill="#1a1a1a" textLength="16.6" lengthAdjust="spacingAndGlyphs" >0.8</text>
<text x="598.66" y="302.5" font-size="11.6" text-anchor="middle" fill="#1a1a1a" textLength="16.6" lengthAdjust="spacingAndGlyphs" >0.9</text>
<text x="646.58" y="302.5" font-size="11.6" text-anchor="middle" fill="#1a1a1a" textLength="16.6" lengthAdjust="spacingAndGlyphs" >1.0</text>
<text x="388.4" y="279.69" font-size="11.6" text-anchor="end" fill="#1a1a1a" textLength="16.6" lengthAdjust="spacingAndGlyphs" >0.5</text>
<text x="388.4" y="232.09" font-size="11.6" text-anchor="end" fill="#1a1a1a" textLength="16.6" lengthAdjust="spacingAndGlyphs" >0.6</text>
<text x="388.4" y="184.49" font-size="11.6" text-anchor="end" fill="#1a1a1a" textLength="16.6" lengthAdjust="spacingAndGlyphs" >0.7</text>
<text x="388.4" y="136.89" font-size="11.6" text-anchor="end" fill="#1a1a1a" textLength="16.6" lengthAdjust="spacingAndGlyphs" >0.8</text>
<text x="388.4" y="89.29" font-size="11.6" text-anchor="end" fill="#1a1a1a" textLength="16.6" lengthAdjust="spacingAndGlyphs" >0.9</text>
<text x="388.4" y="41.69" font-size="11.6" text-anchor="end" fill="#1a1a1a" textLength="16.6" lengthAdjust="spacingAndGlyphs" >1.0</text>
<rect x="531.5" y="156.9" width="147" height="126.1" rx="2" fill="#fff" stroke="#c8c8c8" stroke-width="1"/>
<path d="M544.3 163.9L549.1 168.7M544.3 168.7L549.1 163.9" stroke="#0B4E96" stroke-width="1.7" fill="none"/>
<text x="566.6" y="169.9" font-size="11.5" text-anchor="start" fill="#1a1a1a" textLength="97" lengthAdjust="spacingAndGlyphs" >1000 mHz PC-PD</text>
<circle cx="546.7" cy="181.7" r="3.2" fill="#26B3B0"/>
<text x="566.6" y="185.3" font-size="11.5" text-anchor="start" fill="#1a1a1a" textLength="106.3" lengthAdjust="spacingAndGlyphs" >1000 mHz PC-NPD</text>
<polygon points="546.7,193.75 543.8,195.43 543.8,198.78 546.7,200.45 549.6,198.78 549.6,195.43" fill="#33CC33"/>
<text x="566.6" y="200.7" font-size="11.5" text-anchor="start" fill="#1a1a1a" textLength="90.7" lengthAdjust="spacingAndGlyphs" >500 mHz PC-PD</text>
<polygon points="550.05,212.5 548.38,209.6 545.03,209.6 543.35,212.5 545.03,215.4 548.38,215.4" fill="#6B6B6B"/>
<text x="566.6" y="216.1" font-size="11.5" text-anchor="start" fill="#1a1a1a" textLength="90.7" lengthAdjust="spacingAndGlyphs" >320 mHz PC-PD</text>
<path d="M544.1 227.9h5.2M546.7 225.3v5.2" stroke="#72A83A" stroke-width="1.6" fill="none"/>
<text x="566.6" y="231.5" font-size="11.5" text-anchor="start" fill="#1a1a1a" textLength="90.7" lengthAdjust="spacingAndGlyphs" >100 mHz PC-PD</text>
<polygon points="546.7,240 543.32,245.85 550.08,245.85" fill="#FF5A43"/>
<text x="566.6" y="246.9" font-size="11.5" text-anchor="start" fill="#1a1a1a" textLength="100" lengthAdjust="spacingAndGlyphs" >100 mHz PC-NPD</text>
<polygon points="546.7,255.4 545.82,257.79 543.28,257.89 545.27,259.46 544.58,261.91 546.7,260.5 548.82,261.91 548.13,259.46 550.12,257.89 547.58,257.79" fill="#FFD200"/>
<text x="566.6" y="262.3" font-size="11.5" text-anchor="start" fill="#1a1a1a" textLength="84.1" lengthAdjust="spacingAndGlyphs" >10 mHz PC-PD</text>
<circle cx="546.7" cy="274.1" r="3.2" fill="#3C3C3C"/>
<text x="566.6" y="277.7" font-size="11.5" text-anchor="start" fill="#1a1a1a" textLength="35.8" lengthAdjust="spacingAndGlyphs" >CC-ref</text>
<text x="538.75" y="319" font-size="12" text-anchor="middle" fill="#1a1a1a" textLength="37.6" lengthAdjust="spacingAndGlyphs" >SoH [-]</text>
<g transform="translate(363.3,169.8) rotate(-90)" fill="#1a1a1a"><path d="M0 0L8.6 0L4.3 -8.2ZM0.95 -0.8L6.85 -0.8L4 -6.3Z" fill="#1a1a1a" fill-rule="evenodd"/><text x="9.1" y="0" font-size="12.2" font-style="italic" textLength="10.5" lengthAdjust="spacingAndGlyphs">Q</text><text x="19.6" y="1.8" font-size="8.7" textLength="13.9" lengthAdjust="spacingAndGlyphs">NE</text><text x="40.3" y="0" font-size="11.8" textLength="9.3" lengthAdjust="spacingAndGlyphs">[-]</text></g>
<text x="532.9" y="341.2" font-size="13.2" text-anchor="middle" fill="#1a1a1a" >(b)</text>
<defs><clipPath id="cc"><rect x="40.2" y="359.5" width="289.9" height="288.0"/></clipPath></defs>
<g stroke="#000" stroke-opacity="0.5" stroke-width="0.8" stroke-dasharray="2.85 1.15"><line x1="53.38" y1="647.5" x2="53.38" y2="359.5"/><line x1="101.3" y1="647.5" x2="101.3" y2="359.5"/><line x1="149.22" y1="647.5" x2="149.22" y2="359.5"/><line x1="197.14" y1="647.5" x2="197.14" y2="359.5"/><line x1="245.06" y1="647.5" x2="245.06" y2="359.5"/><line x1="292.98" y1="647.5" x2="292.98" y2="359.5"/><line x1="40.2" y1="634.39" x2="330.1" y2="634.39"/><line x1="40.2" y1="586.79" x2="330.1" y2="586.79"/><line x1="40.2" y1="539.19" x2="330.1" y2="539.19"/><line x1="40.2" y1="491.59" x2="330.1" y2="491.59"/><line x1="40.2" y1="443.99" x2="330.1" y2="443.99"/><line x1="40.2" y1="396.39" x2="330.1" y2="396.39"/></g>
<g clip-path="url(#cc)"><path d="M245.6 387.4L250.4 392.2M245.6 392.2L250.4 387.4" stroke="#0B4E96" stroke-width="1.7" fill="none"/><path d="M248.2 387.4L253 392.2M248.2 392.2L253 387.4" stroke="#0B4E96" stroke-width="1.7" fill="none"/><path d="M250.8 387.4L255.6 392.2M250.8 392.2L255.6 387.4" stroke="#0B4E96" stroke-width="1.7" fill="none"/><path d="M253.4 387.4L258.2 392.2M253.4 392.2L258.2 387.4" stroke="#0B4E96" stroke-width="1.7" fill="none"/><path d="M256 387.4L260.8 392.2M256 392.2L260.8 387.4" stroke="#0B4E96" stroke-width="1.7" fill="none"/><path d="M258.6 387.4L263.4 392.2M258.6 392.2L263.4 387.4" stroke="#0B4E96" stroke-width="1.7" fill="none"/><path d="M261.2 387.4L266 392.2M261.2 392.2L266 387.4" stroke="#0B4E96" stroke-width="1.7" fill="none"/><path d="M263.8 387.4L268.6 392.2M263.8 392.2L268.6 387.4" stroke="#0B4E96" stroke-width="1.7" fill="none"/><path d="M266.4 387.4L271.2 392.2M266.4 392.2L271.2 387.4" stroke="#0B4E96" stroke-width="1.7" fill="none"/><path d="M269 387.4L273.8 392.2M269 392.2L273.8 387.4" stroke="#0B4E96" stroke-width="1.7" fill="none"/><path d="M271.6 387.4L276.4 392.2M271.6 392.2L276.4 387.4" stroke="#0B4E96" stroke-width="1.7" fill="none"/><path d="M274.2 387.4L279 392.2M274.2 392.2L279 387.4" stroke="#0B4E96" stroke-width="1.7" fill="none"/><path d="M276.8 387.4L281.6 392.2M276.8 392.2L281.6 387.4" stroke="#0B4E96" stroke-width="1.7" fill="none"/><path d="M279.4 387.4L284.2 392.2M279.4 392.2L284.2 387.4" stroke="#0B4E96" stroke-width="1.7" fill="none"/><path d="M246.9 390L251.7 394.8M246.9 394.8L251.7 390" stroke="#0B4E96" stroke-width="1.7" fill="none"/><path d="M249.5 390L254.3 394.8M249.5 394.8L254.3 390" stroke="#0B4E96" stroke-width="1.7" fill="none"/><path d="M252.1 390L256.9 394.8M252.1 394.8L256.9 390" stroke="#0B4E96" stroke-width="1.7" fill="none"/><path d="M254.7 390L259.5 394.8M254.7 394.8L259.5 390" stroke="#0B4E96" stroke-width="1.7" fill="none"/><path d="M257.3 390L262.1 394.8M257.3 394.8L262.1 390" stroke="#0B4E96" stroke-width="1.7" fill="none"/><path d="M259.9 390L264.7 394.8M259.9 394.8L264.7 390" stroke="#0B4E96" stroke-width="1.7" fill="none"/><path d="M262.5 390L267.3 394.8M262.5 394.8L267.3 390" stroke="#0B4E96" stroke-width="1.7" fill="none"/><path d="M265.1 390L269.9 394.8M265.1 394.8L269.9 390" stroke="#0B4E96" stroke-width="1.7" fill="none"/><path d="M267.7 390L272.5 394.8M267.7 394.8L272.5 390" stroke="#0B4E96" stroke-width="1.7" fill="none"/><path d="M270.3 390L275.1 394.8M270.3 394.8L275.1 390" stroke="#0B4E96" stroke-width="1.7" fill="none"/><path d="M272.9 390L277.7 394.8M272.9 394.8L277.7 390" stroke="#0B4E96" stroke-width="1.7" fill="none"/><path d="M275.5 390L280.3 394.8M275.5 394.8L280.3 390" stroke="#0B4E96" stroke-width="1.7" fill="none"/><path d="M278.1 390L282.9 394.8M278.1 394.8L282.9 390" stroke="#0B4E96" stroke-width="1.7" fill="none"/><path d="M280.7 390L285.5 394.8M280.7 394.8L285.5 390" stroke="#0B4E96" stroke-width="1.7" fill="none"/><path d="M245.6 392.6L250.4 397.4M245.6 397.4L250.4 392.6" stroke="#0B4E96" stroke-width="1.7" fill="none"/><path d="M248.2 392.6L253 397.4M248.2 397.4L253 392.6" stroke="#0B4E96" stroke-width="1.7" fill="none"/><path d="M250.8 392.6L255.6 397.4M250.8 397.4L255.6 392.6" stroke="#0B4E96" stroke-width="1.7" fill="none"/><path d="M253.4 392.6L258.2 397.4M253.4 397.4L258.2 392.6" stroke="#0B4E96" stroke-width="1.7" fill="none"/><path d="M256 392.6L260.8 397.4M256 397.4L260.8 392.6" stroke="#0B4E96" stroke-width="1.7" fill="none"/><path d="M258.6 392.6L263.4 397.4M258.6 397.4L263.4 392.6" stroke="#0B4E96" stroke-width="1.7" fill="none"/><path d="M261.2 392.6L266 397.4M261.2 397.4L266 392.6" stroke="#0B4E96" stroke-width="1.7" fill="none"/><path d="M263.8 392.6L268.6 397.4M263.8 397.4L268.6 392.6" stroke="#0B4E96" stroke-width="1.7" fill="none"/><path d="M266.4 392.6L271.2 397.4M266.4 397.4L271.2 392.6" stroke="#0B4E96" stroke-width="1.7" fill="none"/><path d="M269 392.6L273.8 397.4M269 397.4L273.8 392.6" stroke="#0B4E96" stroke-width="1.7" fill="none"/><path d="M271.6 392.6L276.4 397.4M271.6 397.4L276.4 392.6" stroke="#0B4E96" stroke-width="1.7" fill="none"/><path d="M274.2 392.6L279 397.4M274.2 397.4L279 392.6" stroke="#0B4E96" stroke-width="1.7" fill="none"/><path d="M276.8 392.6L281.6 397.4M276.8 397.4L281.6 392.6" stroke="#0B4E96" stroke-width="1.7" fill="none"/><path d="M279.4 392.6L284.2 397.4M279.4 397.4L284.2 392.6" stroke="#0B4E96" stroke-width="1.7" fill="none"/><path d="M246.9 395.2L251.7 400M246.9 400L251.7 395.2" stroke="#0B4E96" stroke-width="1.7" fill="none"/><path d="M249.5 395.2L254.3 400M249.5 400L254.3 395.2" stroke="#0B4E96" stroke-width="1.7" fill="none"/><path d="M252.1 395.2L256.9 400M252.1 400L256.9 395.2" stroke="#0B4E96" stroke-width="1.7" fill="none"/><path d="M254.7 395.2L259.5 400M254.7 400L259.5 395.2" stroke="#0B4E96" stroke-width="1.7" fill="none"/><path d="M257.3 395.2L262.1 400M257.3 400L262.1 395.2" stroke="#0B4E96" stroke-width="1.7" fill="none"/><path d="M259.9 395.2L264.7 400M259.9 400L264.7 395.2" stroke="#0B4E96" stroke-width="1.7" fill="none"/><path d="M262.5 395.2L267.3 400M262.5 400L267.3 395.2" stroke="#0B4E96" stroke-width="1.7" fill="none"/><path d="M265.1 395.2L269.9 400M265.1 400L269.9 395.2" stroke="#0B4E96" stroke-width="1.7" fill="none"/><path d="M267.7 395.2L272.5 400M267.7 400L272.5 395.2" stroke="#0B4E96" stroke-width="1.7" fill="none"/><path d="M270.3 395.2L275.1 400M270.3 400L275.1 395.2" stroke="#0B4E96" stroke-width="1.7" fill="none"/><path d="M272.9 395.2L277.7 400M272.9 400L277.7 395.2" stroke="#0B4E96" stroke-width="1.7" fill="none"/><path d="M275.5 395.2L280.3 400M275.5 400L280.3 395.2" stroke="#0B4E96" stroke-width="1.7" fill="none"/><path d="M278.1 395.2L282.9 400M278.1 400L282.9 395.2" stroke="#0B4E96" stroke-width="1.7" fill="none"/><path d="M280.7 395.2L285.5 400M280.7 400L285.5 395.2" stroke="#0B4E96" stroke-width="1.7" fill="none"/><path d="M270.1 384.1L274.9 388.9M270.1 388.9L274.9 384.1" stroke="#0B4E96" stroke-width="1.7" fill="none"/><path d="M273.1 385.6L277.9 390.4M273.1 390.4L277.9 385.6" stroke="#0B4E96" stroke-width="1.7" fill="none"/><path d="M267.6 385.1L272.4 389.9M267.6 389.9L272.4 385.1" stroke="#0B4E96" stroke-width="1.7" fill="none"/><path d="M270.6 382.1L275.4 386.9M270.6 386.9L275.4 382.1" stroke="#0B4E96" stroke-width="1.7" fill="none"/><path d="M290.7 393.9L295.5 398.7M290.7 398.7L295.5 393.9" stroke="#0B4E96" stroke-width="1.7" fill="none"/><circle cx="220.6" cy="422.6" r="3.2" fill="#26B3B0"/><circle cx="240.4" cy="429.6" r="3.2" fill="#26B3B0"/><circle cx="250.1" cy="420.8" r="3.2" fill="#26B3B0"/><circle cx="249.7" cy="400.8" r="3.2" fill="#26B3B0"/><circle cx="278.9" cy="401.5" r="3.2" fill="#26B3B0"/><circle cx="249.4" cy="413.3" r="3.2" fill="#26B3B0"/><circle cx="259.4" cy="414.6" r="3.2" fill="#26B3B0"/><circle cx="264.1" cy="416" r="3.2" fill="#26B3B0"/><circle cx="278.9" cy="413.9" r="3.2" fill="#26B3B0"/><circle cx="269.2" cy="412.6" r="3.2" fill="#26B3B0"/><circle cx="249.7" cy="418.6" r="3.2" fill="#26B3B0"/><circle cx="254.7" cy="413.6" r="3.2" fill="#26B3B0"/><circle cx="293.1" cy="396.3" r="3.2" fill="#26B3B0"/><polygon points="201.9,406.95 199,408.62 199,411.98 201.9,413.65 204.8,411.98 204.8,408.62" fill="#33CC33"/><polygon points="235.7,401.65 232.8,403.32 232.8,406.68 235.7,408.35 238.6,406.68 238.6,403.32" fill="#33CC33"/><polygon points="244,409.65 241.1,411.32 241.1,414.68 244,416.35 246.9,414.68 246.9,411.32" fill="#33CC33"/><polygon points="264.1,379.05 261.2,380.72 261.2,384.07 264.1,385.75 267,384.07 267,380.72" fill="#33CC33"/><polygon points="259.1,384.05 256.2,385.72 256.2,389.07 259.1,390.75 262,389.07 262,385.72" fill="#33CC33"/><polygon points="268.8,383.75 265.9,385.43 265.9,388.78 268.8,390.45 271.7,388.78 271.7,385.43" fill="#33CC33"/><polygon points="278.6,378.65 275.7,380.32 275.7,383.68 278.6,385.35 281.5,383.68 281.5,380.32" fill="#33CC33"/><polygon points="278.6,384.05 275.7,385.72 275.7,389.07 278.6,390.75 281.5,389.07 281.5,385.72" fill="#33CC33"/><polygon points="259.1,388.75 256.2,390.43 256.2,393.78 259.1,395.45 262,393.78 262,390.43" fill="#33CC33"/><polygon points="219.25,434 217.58,431.1 214.22,431.1 212.55,434 214.22,436.9 217.58,436.9" fill="#6B6B6B"/><polygon points="229.25,422.6 227.58,419.7 224.22,419.7 222.55,422.6 224.22,425.5 227.58,425.5" fill="#6B6B6B"/><polygon points="229.25,417.3 227.58,414.4 224.22,414.4 222.55,417.3 224.22,420.2 227.58,420.2" fill="#6B6B6B"/><polygon points="234.15,410.3 232.48,407.4 229.12,407.4 227.45,410.3 229.12,413.2 232.48,413.2" fill="#6B6B6B"/><polygon points="239.05,424.3 237.38,421.4 234.02,421.4 232.35,424.3 234.02,427.2 237.38,427.2" fill="#6B6B6B"/><polygon points="286.95,399.2 285.28,396.3 281.93,396.3 280.25,399.2 281.93,402.1 285.28,402.1" fill="#6B6B6B"/><polygon points="276.85,385.4 275.18,382.5 271.82,382.5 270.15,385.4 271.82,388.3 275.18,388.3" fill="#6B6B6B"/><path d="M208.9 417.3h5.2M211.5 414.7v5.2" stroke="#72A83A" stroke-width="1.6" fill="none"/><path d="M223.3 406.8h5.2M225.9 404.2v5.2" stroke="#72A83A" stroke-width="1.6" fill="none"/><path d="M233.1 399.4h5.2M235.7 396.8v5.2" stroke="#72A83A" stroke-width="1.6" fill="none"/><path d="M242.7 396.8h5.2M245.3 394.2v5.2" stroke="#72A83A" stroke-width="1.6" fill="none"/><path d="M247.4 390.4h5.2M250 387.8v5.2" stroke="#72A83A" stroke-width="1.6" fill="none"/><path d="M252.1 393.1h5.2M254.7 390.5v5.2" stroke="#72A83A" stroke-width="1.6" fill="none"/><path d="M256.8 388.8h5.2M259.4 386.2v5.2" stroke="#72A83A" stroke-width="1.6" fill="none"/><path d="M261.5 389.8h5.2M264.1 387.2v5.2" stroke="#72A83A" stroke-width="1.6" fill="none"/><path d="M266.6 391.8h5.2M269.2 389.2v5.2" stroke="#72A83A" stroke-width="1.6" fill="none"/><path d="M276 384.1h5.2M278.6 381.5v5.2" stroke="#72A83A" stroke-width="1.6" fill="none"/><path d="M281 389.1h5.2M283.6 386.5v5.2" stroke="#72A83A" stroke-width="1.6" fill="none"/><path d="M261.5 398.8h5.2M264.1 396.2v5.2" stroke="#72A83A" stroke-width="1.6" fill="none"/><path d="M266.6 398.5h5.2M269.2 395.9v5.2" stroke="#72A83A" stroke-width="1.6" fill="none"/><path d="M276 398.5h5.2M278.6 395.9v5.2" stroke="#72A83A" stroke-width="1.6" fill="none"/><path d="M270.9 402.5h5.2M273.5 399.9v5.2" stroke="#72A83A" stroke-width="1.6" fill="none"/><path d="M256.8 403.5h5.2M259.4 400.9v5.2" stroke="#72A83A" stroke-width="1.6" fill="none"/><path d="M252.1 405.2h5.2M254.7 402.6v5.2" stroke="#72A83A" stroke-width="1.6" fill="none"/><path d="M247.4 408.2h5.2M250 405.6v5.2" stroke="#72A83A" stroke-width="1.6" fill="none"/><path d="M252.1 410.9h5.2M254.7 408.3v5.2" stroke="#72A83A" stroke-width="1.6" fill="none"/><path d="M290.5 396.3h5.2M293.1 393.7v5.2" stroke="#72A83A" stroke-width="1.6" fill="none"/><polygon points="173.4,446.3 170.02,452.15 176.78,452.15" fill="#FF5A43"/><polygon points="187.4,430.5 184.02,436.35 190.78,436.35" fill="#FF5A43"/><polygon points="201.9,430.7 198.52,436.55 205.28,436.55" fill="#FF5A43"/><polygon points="207.2,424.5 203.82,430.35 210.58,430.35" fill="#FF5A43"/><polygon points="215.9,418.4 212.52,424.25 219.28,424.25" fill="#FF5A43"/><polygon points="215.9,422.7 212.52,428.55 219.28,428.55" fill="#FF5A43"/><polygon points="225.9,408.7 222.52,414.55 229.28,414.55" fill="#FF5A43"/><polygon points="230.8,414 227.42,419.85 234.18,419.85" fill="#FF5A43"/><polygon points="240.4,404.4 237.02,410.25 243.78,410.25" fill="#FF5A43"/><polygon points="240.4,408.7 237.02,414.55 243.78,414.55" fill="#FF5A43"/><polygon points="254.4,397.5 251.02,403.35 257.78,403.35" fill="#FF5A43"/><polygon points="259.4,394.9 256.02,400.75 262.78,400.75" fill="#FF5A43"/><polygon points="264.1,392.2 260.72,398.05 267.48,398.05" fill="#FF5A43"/><polygon points="273.9,390.2 270.52,396.05 277.28,396.05" fill="#FF5A43"/><polygon points="250,402.3 246.62,408.15 253.38,408.15" fill="#FF5A43"/><polygon points="259.4,403.6 256.02,409.45 262.78,409.45" fill="#FF5A43"/><polygon points="264.1,400.9 260.72,406.75 267.48,406.75" fill="#FF5A43"/><polygon points="269.2,398.9 265.82,404.75 272.58,404.75" fill="#FF5A43"/><polygon points="273.9,395.2 270.52,401.05 277.28,401.05" fill="#FF5A43"/><polygon points="268.8,406.3 265.42,412.15 272.18,412.15" fill="#FF5A43"/><polygon points="278.6,404.9 275.22,410.75 281.98,410.75" fill="#FF5A43"/><polygon points="283.6,402.9 280.22,408.75 286.98,408.75" fill="#FF5A43"/><polygon points="273.9,400.9 270.52,406.75 277.28,406.75" fill="#FF5A43"/><polygon points="293.1,393 289.72,398.85 296.48,398.85" fill="#FF5A43"/><polygon points="256.7,400.7 253.32,406.55 260.08,406.55" fill="#FF5A43"/><polygon points="261.7,397.7 258.32,403.55 265.08,403.55" fill="#FF5A43"/><polygon points="266.7,396.7 263.32,402.55 270.08,402.55" fill="#FF5A43"/><polygon points="271.5,402.7 268.12,408.55 274.88,408.55" fill="#FF5A43"/><polygon points="276,400.7 272.62,406.55 279.38,406.55" fill="#FF5A43"/><polygon points="281,398.7 277.62,404.55 284.38,404.55" fill="#FF5A43"/><polygon points="252,405.7 248.62,411.55 255.38,411.55" fill="#FF5A43"/><polygon points="257,406.7 253.62,412.55 260.38,412.55" fill="#FF5A43"/><polygon points="262,405.7 258.62,411.55 265.38,411.55" fill="#FF5A43"/><polygon points="87,480.4 86.12,482.79 83.58,482.89 85.57,484.46 84.88,486.91 87,485.5 89.12,486.91 88.43,484.46 90.42,482.89 87.88,482.79" fill="#FFD200"/><polygon points="110.6,469.6 109.72,471.99 107.18,472.09 109.17,473.66 108.48,476.11 110.6,474.7 112.72,476.11 112.03,473.66 114.02,472.09 111.48,471.99" fill="#FFD200"/><polygon points="134.8,449.8 133.92,452.19 131.38,452.29 133.37,453.86 132.68,456.31 134.8,454.9 136.92,456.31 136.23,453.86 138.22,452.29 135.68,452.19" fill="#FFD200"/><polygon points="139.7,465.5 138.82,467.89 136.28,467.99 138.27,469.56 137.58,472.01 139.7,470.6 141.82,472.01 141.13,469.56 143.12,467.99 140.58,467.89" fill="#FFD200"/><polygon points="158.8,438 157.92,440.39 155.38,440.49 157.37,442.06 156.68,444.51 158.8,443.1 160.92,444.51 160.23,442.06 162.22,440.49 159.68,440.39" fill="#FFD200"/><polygon points="158.8,452.9 157.92,455.29 155.38,455.39 157.37,456.96 156.68,459.41 158.8,458 160.92,459.41 160.23,456.96 162.22,455.39 159.68,455.29" fill="#FFD200"/><polygon points="173.4,431.4 172.52,433.79 169.98,433.89 171.97,435.46 171.28,437.91 173.4,436.5 175.52,437.91 174.83,435.46 176.82,433.89 174.28,433.79" fill="#FFD200"/><polygon points="177.7,431.9 176.82,434.29 174.28,434.39 176.27,435.96 175.58,438.41 177.7,437 179.82,438.41 179.13,435.96 181.12,434.39 178.58,434.29" fill="#FFD200"/><polygon points="183,437.5 182.12,439.89 179.58,439.99 181.57,441.56 180.88,444.01 183,442.6 185.12,444.01 184.43,441.56 186.42,439.99 183.88,439.89" fill="#FFD200"/><polygon points="192.3,429.8 191.42,432.19 188.88,432.29 190.87,433.86 190.18,436.31 192.3,434.9 194.42,436.31 193.73,433.86 195.72,432.29 193.18,432.19" fill="#FFD200"/><polygon points="197.5,428.9 196.62,431.29 194.08,431.39 196.07,432.96 195.38,435.41 197.5,434 199.62,435.41 198.93,432.96 200.92,431.39 198.38,431.29" fill="#FFD200"/><polygon points="182.6,437.7 181.72,440.09 179.18,440.19 181.17,441.76 180.48,444.21 182.6,442.8 184.72,444.21 184.03,441.76 186.02,440.19 183.48,440.09" fill="#FFD200"/><polygon points="211.5,414 210.62,416.39 208.08,416.49 210.07,418.06 209.38,420.51 211.5,419.1 213.62,420.51 212.93,418.06 214.92,416.49 212.38,416.39" fill="#FFD200"/><polygon points="220.6,422.7 219.72,425.09 217.18,425.19 219.17,426.76 218.48,429.21 220.6,427.8 222.72,429.21 222.03,426.76 224.02,425.19 221.48,425.09" fill="#FFD200"/><polygon points="230.5,397.4 229.62,399.79 227.08,399.89 229.07,401.46 228.38,403.91 230.5,402.5 232.62,403.91 231.93,401.46 233.92,399.89 231.38,399.79" fill="#FFD200"/><polygon points="230.5,403.5 229.62,405.89 227.08,405.99 229.07,407.56 228.38,410.01 230.5,408.6 232.62,410.01 231.93,407.56 233.92,405.99 231.38,405.89" fill="#FFD200"/><polygon points="235.7,415.7 234.82,418.09 232.28,418.19 234.27,419.76 233.58,422.21 235.7,420.8 237.82,422.21 237.13,419.76 239.12,418.19 236.58,418.09" fill="#FFD200"/><polygon points="245.3,398.6 244.42,400.99 241.88,401.09 243.87,402.66 243.18,405.11 245.3,403.7 247.42,405.11 246.73,402.66 248.72,401.09 246.18,400.99" fill="#FFD200"/><polygon points="254.7,413.3 253.82,415.69 251.28,415.79 253.27,417.36 252.58,419.81 254.7,418.4 256.82,419.81 256.13,417.36 258.12,415.79 255.58,415.69" fill="#FFD200"/><polygon points="273.5,379.1 272.62,381.49 270.08,381.59 272.07,383.16 271.38,385.61 273.5,384.2 275.62,385.61 274.93,383.16 276.92,381.59 274.38,381.49" fill="#FFD200"/><circle cx="87" cy="469.7" r="3.2" fill="#3C3C3C"/><circle cx="110.6" cy="457.4" r="3.2" fill="#3C3C3C"/><circle cx="110.6" cy="460.1" r="3.2" fill="#3C3C3C"/><circle cx="110.6" cy="462.7" r="3.2" fill="#3C3C3C"/><circle cx="130.4" cy="447.8" r="3.2" fill="#3C3C3C"/><circle cx="134.8" cy="446.9" r="3.2" fill="#3C3C3C"/><circle cx="139.7" cy="443.1" r="3.2" fill="#3C3C3C"/><circle cx="149.2" cy="449" r="3.2" fill="#3C3C3C"/><circle cx="153.7" cy="442" r="3.2" fill="#3C3C3C"/><circle cx="158.8" cy="439.9" r="3.2" fill="#3C3C3C"/><circle cx="158.8" cy="446.9" r="3.2" fill="#3C3C3C"/><circle cx="168.5" cy="431.7" r="3.2" fill="#3C3C3C"/><circle cx="168.5" cy="447.5" r="3.2" fill="#3C3C3C"/><circle cx="177.7" cy="431.7" r="3.2" fill="#3C3C3C"/><circle cx="183" cy="430.3" r="3.2" fill="#3C3C3C"/><circle cx="188.3" cy="429.4" r="3.2" fill="#3C3C3C"/><circle cx="182.6" cy="430.4" r="3.2" fill="#3C3C3C"/><circle cx="187.9" cy="429.6" r="3.2" fill="#3C3C3C"/><circle cx="192.3" cy="417" r="3.2" fill="#3C3C3C"/><circle cx="201.9" cy="420.5" r="3.2" fill="#3C3C3C"/><circle cx="206.8" cy="412.6" r="3.2" fill="#3C3C3C"/><circle cx="215.9" cy="403.3" r="3.2" fill="#3C3C3C"/><circle cx="215.9" cy="410.3" r="3.2" fill="#3C3C3C"/><circle cx="225.9" cy="402.4" r="3.2" fill="#3C3C3C"/><circle cx="240.4" cy="401.5" r="3.2" fill="#3C3C3C"/><circle cx="245" cy="406.9" r="3.2" fill="#3C3C3C"/><circle cx="264.1" cy="412" r="3.2" fill="#3C3C3C"/><circle cx="283.6" cy="394.1" r="3.2" fill="#3C3C3C"/></g>
<line x1="53.38" y1="634.39" x2="316.94" y2="372.59" stroke="#000" stroke-width="1.9" stroke-dasharray="5.6 2.4"/>
<path d="M53.38 647.5v-4.5M53.38 359.5v4.5M101.3 647.5v-4.5M101.3 359.5v4.5M149.22 647.5v-4.5M149.22 359.5v4.5M197.14 647.5v-4.5M197.14 359.5v4.5M245.06 647.5v-4.5M245.06 359.5v4.5M292.98 647.5v-4.5M292.98 359.5v4.5M43.79 647.5v-2.3M43.79 359.5v2.3M62.96 647.5v-2.3M62.96 359.5v2.3M72.55 647.5v-2.3M72.55 359.5v2.3M82.13 647.5v-2.3M82.13 359.5v2.3M91.71 647.5v-2.3M91.71 359.5v2.3M110.88 647.5v-2.3M110.88 359.5v2.3M120.47 647.5v-2.3M120.47 359.5v2.3M130.05 647.5v-2.3M130.05 359.5v2.3M139.63 647.5v-2.3M139.63 359.5v2.3M158.8 647.5v-2.3M158.8 359.5v2.3M168.39 647.5v-2.3M168.39 359.5v2.3M177.97 647.5v-2.3M177.97 359.5v2.3M187.55 647.5v-2.3M187.55 359.5v2.3M206.72 647.5v-2.3M206.72 359.5v2.3M216.31 647.5v-2.3M216.31 359.5v2.3M225.89 647.5v-2.3M225.89 359.5v2.3M235.47 647.5v-2.3M235.47 359.5v2.3M254.64 647.5v-2.3M254.64 359.5v2.3M264.23 647.5v-2.3M264.23 359.5v2.3M273.81 647.5v-2.3M273.81 359.5v2.3M283.39 647.5v-2.3M283.39 359.5v2.3M302.56 647.5v-2.3M302.56 359.5v2.3M312.15 647.5v-2.3M312.15 359.5v2.3M321.73 647.5v-2.3M321.73 359.5v2.3M40.2 634.39h4.5M330.1 634.39h-4.5M40.2 586.79h4.5M330.1 586.79h-4.5M40.2 539.19h4.5M330.1 539.19h-4.5M40.2 491.59h4.5M330.1 491.59h-4.5M40.2 443.99h4.5M330.1 443.99h-4.5M40.2 396.39h4.5M330.1 396.39h-4.5M40.2 643.91h2.3M330.1 643.91h-2.3M40.2 624.87h2.3M330.1 624.87h-2.3M40.2 615.35h2.3M330.1 615.35h-2.3M40.2 605.83h2.3M330.1 605.83h-2.3M40.2 596.31h2.3M330.1 596.31h-2.3M40.2 577.27h2.3M330.1 577.27h-2.3M40.2 567.75h2.3M330.1 567.75h-2.3M40.2 558.23h2.3M330.1 558.23h-2.3M40.2 548.71h2.3M330.1 548.71h-2.3M40.2 529.67h2.3M330.1 529.67h-2.3M40.2 520.15h2.3M330.1 520.15h-2.3M40.2 510.63h2.3M330.1 510.63h-2.3M40.2 501.11h2.3M330.1 501.11h-2.3M40.2 482.07h2.3M330.1 482.07h-2.3M40.2 472.55h2.3M330.1 472.55h-2.3M40.2 463.03h2.3M330.1 463.03h-2.3M40.2 453.51h2.3M330.1 453.51h-2.3M40.2 434.47h2.3M330.1 434.47h-2.3M40.2 424.95h2.3M330.1 424.95h-2.3M40.2 415.43h2.3M330.1 415.43h-2.3M40.2 405.91h2.3M330.1 405.91h-2.3M40.2 386.87h2.3M330.1 386.87h-2.3M40.2 377.35h2.3M330.1 377.35h-2.3M40.2 367.83h2.3M330.1 367.83h-2.3" stroke="#000" stroke-width="0.75" fill="none"/>
<rect x="40.2" y="359.5" width="289.9" height="288" fill="none" stroke="#000" stroke-width="0.85"/>
<text x="53.38" y="661.1" font-size="11.6" text-anchor="middle" fill="#1a1a1a" textLength="16.6" lengthAdjust="spacingAndGlyphs" >0.5</text>
<text x="101.3" y="661.1" font-size="11.6" text-anchor="middle" fill="#1a1a1a" textLength="16.6" lengthAdjust="spacingAndGlyphs" >0.6</text>
<text x="149.22" y="661.1" font-size="11.6" text-anchor="middle" fill="#1a1a1a" textLength="16.6" lengthAdjust="spacingAndGlyphs" >0.7</text>
<text x="197.14" y="661.1" font-size="11.6" text-anchor="middle" fill="#1a1a1a" textLength="16.6" lengthAdjust="spacingAndGlyphs" >0.8</text>
<text x="245.06" y="661.1" font-size="11.6" text-anchor="middle" fill="#1a1a1a" textLength="16.6" lengthAdjust="spacingAndGlyphs" >0.9</text>
<text x="292.98" y="661.1" font-size="11.6" text-anchor="middle" fill="#1a1a1a" textLength="16.6" lengthAdjust="spacingAndGlyphs" >1.0</text>
<text x="34.8" y="638.29" font-size="11.6" text-anchor="end" fill="#1a1a1a" textLength="16.6" lengthAdjust="spacingAndGlyphs" >0.5</text>
<text x="34.8" y="590.69" font-size="11.6" text-anchor="end" fill="#1a1a1a" textLength="16.6" lengthAdjust="spacingAndGlyphs" >0.6</text>
<text x="34.8" y="543.09" font-size="11.6" text-anchor="end" fill="#1a1a1a" textLength="16.6" lengthAdjust="spacingAndGlyphs" >0.7</text>
<text x="34.8" y="495.49" font-size="11.6" text-anchor="end" fill="#1a1a1a" textLength="16.6" lengthAdjust="spacingAndGlyphs" >0.8</text>
<text x="34.8" y="447.89" font-size="11.6" text-anchor="end" fill="#1a1a1a" textLength="16.6" lengthAdjust="spacingAndGlyphs" >0.9</text>
<text x="34.8" y="400.29" font-size="11.6" text-anchor="end" fill="#1a1a1a" textLength="16.6" lengthAdjust="spacingAndGlyphs" >1.0</text>
<rect x="177.8" y="515.6" width="147" height="126.1" rx="2" fill="#fff" stroke="#c8c8c8" stroke-width="1"/>
<path d="M190.6 522.6L195.4 527.4M190.6 527.4L195.4 522.6" stroke="#0B4E96" stroke-width="1.7" fill="none"/>
<text x="212.9" y="528.6" font-size="11.5" text-anchor="start" fill="#1a1a1a" textLength="97" lengthAdjust="spacingAndGlyphs" >1000 mHz PC-PD</text>
<circle cx="193" cy="540.4" r="3.2" fill="#26B3B0"/>
<text x="212.9" y="544" font-size="11.5" text-anchor="start" fill="#1a1a1a" textLength="106.3" lengthAdjust="spacingAndGlyphs" >1000 mHz PC-NPD</text>
<polygon points="193,552.45 190.1,554.12 190.1,557.47 193,559.15 195.9,557.47 195.9,554.12" fill="#33CC33"/>
<text x="212.9" y="559.4" font-size="11.5" text-anchor="start" fill="#1a1a1a" textLength="90.7" lengthAdjust="spacingAndGlyphs" >500 mHz PC-PD</text>
<polygon points="196.35,571.2 194.68,568.3 191.32,568.3 189.65,571.2 191.32,574.1 194.68,574.1" fill="#6B6B6B"/>
<text x="212.9" y="574.8" font-size="11.5" text-anchor="start" fill="#1a1a1a" textLength="90.7" lengthAdjust="spacingAndGlyphs" >320 mHz PC-PD</text>
<path d="M190.4 586.6h5.2M193 584v5.2" stroke="#72A83A" stroke-width="1.6" fill="none"/>
<text x="212.9" y="590.2" font-size="11.5" text-anchor="start" fill="#1a1a1a" textLength="90.7" lengthAdjust="spacingAndGlyphs" >100 mHz PC-PD</text>
<polygon points="193,598.7 189.62,604.55 196.38,604.55" fill="#FF5A43"/>
<text x="212.9" y="605.6" font-size="11.5" text-anchor="start" fill="#1a1a1a" textLength="100" lengthAdjust="spacingAndGlyphs" >100 mHz PC-NPD</text>
<polygon points="193,614.1 192.12,616.49 189.58,616.59 191.57,618.16 190.88,620.61 193,619.2 195.12,620.61 194.43,618.16 196.42,616.59 193.88,616.49" fill="#FFD200"/>
<text x="212.9" y="621" font-size="11.5" text-anchor="start" fill="#1a1a1a" textLength="84.1" lengthAdjust="spacingAndGlyphs" >10 mHz PC-PD</text>
<circle cx="193" cy="632.8" r="3.2" fill="#3C3C3C"/>
<text x="212.9" y="636.4" font-size="11.5" text-anchor="start" fill="#1a1a1a" textLength="35.8" lengthAdjust="spacingAndGlyphs" >CC-ref</text>
<text x="185.15" y="677.5" font-size="12" text-anchor="middle" fill="#1a1a1a" textLength="37.6" lengthAdjust="spacingAndGlyphs" >SoH [-]</text>
<g transform="translate(9.1,527.7) rotate(-90)" fill="#1a1a1a"><path d="M0 0L8.7 0L4.35 -8.2ZM0.95 -0.8L6.95 -0.8L4.05 -6.3Z" fill="#1a1a1a" fill-rule="evenodd"/><text x="8.8" y="0" font-size="12.2" font-style="italic" textLength="9.7" lengthAdjust="spacingAndGlyphs">Q</text><text x="19.7" y="1.8" font-size="8.7" textLength="13" lengthAdjust="spacingAndGlyphs">PE</text><text x="39.3" y="0" font-size="11.8" textLength="9" lengthAdjust="spacingAndGlyphs">[-]</text></g>
<text x="188.6" y="699.1" font-size="13.2" text-anchor="middle" fill="#1a1a1a" >(c)</text>
<defs><clipPath id="cd"><rect x="393.8" y="359.5" width="289.9" height="288.0"/></clipPath></defs>
<g stroke="#000" stroke-opacity="0.5" stroke-width="0.8" stroke-dasharray="2.85 1.15"><line x1="406.98" y1="647.5" x2="406.98" y2="359.5"/><line x1="454.9" y1="647.5" x2="454.9" y2="359.5"/><line x1="502.82" y1="647.5" x2="502.82" y2="359.5"/><line x1="550.74" y1="647.5" x2="550.74" y2="359.5"/><line x1="598.66" y1="647.5" x2="598.66" y2="359.5"/><line x1="646.58" y1="647.5" x2="646.58" y2="359.5"/><line x1="393.8" y1="634.39" x2="683.7" y2="634.39"/><line x1="393.8" y1="586.79" x2="683.7" y2="586.79"/><line x1="393.8" y1="539.19" x2="683.7" y2="539.19"/><line x1="393.8" y1="491.59" x2="683.7" y2="491.59"/><line x1="393.8" y1="443.99" x2="683.7" y2="443.99"/><line x1="393.8" y1="396.39" x2="683.7" y2="396.39"/></g>
<g clip-path="url(#cd)"><path d="M591.4 487.1L596.2 491.9M591.4 491.9L596.2 487.1" stroke="#0B4E96" stroke-width="1.7" fill="none"/><path d="M596.2 478.8L601 483.6M596.2 483.6L601 478.8" stroke="#0B4E96" stroke-width="1.7" fill="none"/><path d="M610.7 477.9L615.5 482.7M610.7 482.7L615.5 477.9" stroke="#0B4E96" stroke-width="1.7" fill="none"/><path d="M625.1 453.4L629.9 458.2M625.1 458.2L629.9 453.4" stroke="#0B4E96" stroke-width="1.7" fill="none"/><path d="M625.1 462.6L629.9 467.4M625.1 467.4L629.9 462.6" stroke="#0B4E96" stroke-width="1.7" fill="none"/><path d="M620.3 456L625.1 460.8M620.3 460.8L625.1 456" stroke="#0B4E96" stroke-width="1.7" fill="none"/><path d="M615.5 459.5L620.3 464.3M615.5 464.3L620.3 459.5" stroke="#0B4E96" stroke-width="1.7" fill="none"/><path d="M615.5 466.5L620.3 471.3M615.5 471.3L620.3 466.5" stroke="#0B4E96" stroke-width="1.7" fill="none"/><path d="M611.1 463.9L615.9 468.7M611.1 468.7L615.9 463.9" stroke="#0B4E96" stroke-width="1.7" fill="none"/><path d="M611.1 470.9L615.9 475.7M611.1 475.7L615.9 470.9" stroke="#0B4E96" stroke-width="1.7" fill="none"/><path d="M616.4 463.9L621.2 468.7M616.4 468.7L621.2 463.9" stroke="#0B4E96" stroke-width="1.7" fill="none"/><path d="M600.6 449L605.4 453.8M600.6 453.8L605.4 449" stroke="#0B4E96" stroke-width="1.7" fill="none"/><path d="M605 439.4L609.8 444.2M605 444.2L609.8 439.4" stroke="#0B4E96" stroke-width="1.7" fill="none"/><path d="M605.6 429.2L610.4 434M605.6 434L610.4 429.2" stroke="#0B4E96" stroke-width="1.7" fill="none"/><path d="M610.7 431.8L615.5 436.6M610.7 436.6L615.5 431.8" stroke="#0B4E96" stroke-width="1.7" fill="none"/><path d="M629.5 425.8L634.3 430.6M629.5 430.6L634.3 425.8" stroke="#0B4E96" stroke-width="1.7" fill="none"/><path d="M604.7 437.8L609.5 442.6M604.7 442.6L609.5 437.8" stroke="#0B4E96" stroke-width="1.7" fill="none"/><path d="M604.7 440.3L609.5 445.1M604.7 445.1L609.5 440.3" stroke="#0B4E96" stroke-width="1.7" fill="none"/><path d="M624.4 453.2L629.2 458M624.4 458L629.2 453.2" stroke="#0B4E96" stroke-width="1.7" fill="none"/><path d="M620.1 455.7L624.9 460.5M620.1 460.5L624.9 455.7" stroke="#0B4E96" stroke-width="1.7" fill="none"/><path d="M601.4 434.6L606.2 439.4M601.4 439.4L606.2 434.6" stroke="#0B4E96" stroke-width="1.7" fill="none"/><path d="M608.6 435.6L613.4 440.4M608.6 440.4L613.4 435.6" stroke="#0B4E96" stroke-width="1.7" fill="none"/><path d="M644.2 394L649 398.8M644.2 398.8L649 394" stroke="#0B4E96" stroke-width="1.7" fill="none"/><circle cx="603.9" cy="474.2" r="3.2" fill="#26B3B0"/><circle cx="607.4" cy="472.4" r="3.2" fill="#26B3B0"/><circle cx="598.6" cy="457.1" r="3.2" fill="#26B3B0"/><circle cx="589" cy="469.3" r="3.2" fill="#26B3B0"/><circle cx="575.9" cy="481.2" r="3.2" fill="#26B3B0"/><circle cx="604.8" cy="466.3" r="3.2" fill="#26B3B0"/><circle cx="613.5" cy="458.8" r="3.2" fill="#26B3B0"/><circle cx="627.5" cy="441.8" r="3.2" fill="#26B3B0"/><circle cx="631.9" cy="419.7" r="3.2" fill="#26B3B0"/><circle cx="618.2" cy="428.2" r="3.2" fill="#26B3B0"/><circle cx="627.6" cy="440.2" r="3.2" fill="#26B3B0"/><circle cx="621.6" cy="436.8" r="3.2" fill="#26B3B0"/><circle cx="598.6" cy="456.4" r="3.2" fill="#26B3B0"/><circle cx="619.9" cy="450.4" r="3.2" fill="#26B3B0"/><circle cx="605" cy="470" r="3.2" fill="#26B3B0"/><circle cx="574.8" cy="481.7" r="3.2" fill="#26B3B0"/><circle cx="632" cy="416" r="3.2" fill="#26B3B0"/><circle cx="646.6" cy="396.4" r="3.2" fill="#26B3B0"/><circle cx="601" cy="462" r="3.2" fill="#26B3B0"/><circle cx="606" cy="458" r="3.2" fill="#26B3B0"/><circle cx="610" cy="463" r="3.2" fill="#26B3B0"/><circle cx="615" cy="470" r="3.2" fill="#26B3B0"/><circle cx="620" cy="455" r="3.2" fill="#26B3B0"/><circle cx="606" cy="478" r="3.2" fill="#26B3B0"/><circle cx="600" cy="470" r="3.2" fill="#26B3B0"/><circle cx="596" cy="463" r="3.2" fill="#26B3B0"/><circle cx="611" cy="448" r="3.2" fill="#26B3B0"/><circle cx="616" cy="440" r="3.2" fill="#26B3B0"/><circle cx="622" cy="433" r="3.2" fill="#26B3B0"/><circle cx="627" cy="426" r="3.2" fill="#26B3B0"/><circle cx="633" cy="430" r="3.2" fill="#26B3B0"/><polygon points="579.4,451.05 576.5,452.72 576.5,456.07 579.4,457.75 582.3,456.07 582.3,452.72" fill="#33CC33"/><polygon points="589.4,453.75 586.5,455.43 586.5,458.78 589.4,460.45 592.3,458.78 592.3,455.43" fill="#33CC33"/><polygon points="593.8,462.95 590.9,464.62 590.9,467.98 593.8,469.65 596.7,467.98 596.7,464.62" fill="#33CC33"/><polygon points="598.6,448.05 595.7,449.72 595.7,453.07 598.6,454.75 601.5,453.07 601.5,449.72" fill="#33CC33"/><polygon points="603.9,457.65 601,459.32 601,462.68 603.9,464.35 606.8,462.68 606.8,459.32" fill="#33CC33"/><polygon points="622.3,441.05 619.4,442.72 619.4,446.07 622.3,447.75 625.2,446.07 625.2,442.72" fill="#33CC33"/><polygon points="613.1,466.85 610.2,468.52 610.2,471.88 613.1,473.55 616,471.88 616,468.52" fill="#33CC33"/><polygon points="637.9,411.15 635,412.82 635,416.18 637.9,417.85 640.8,416.18 640.8,412.82" fill="#33CC33"/><polygon points="617.4,428.25 614.5,429.93 614.5,433.28 617.4,434.95 620.3,433.28 620.3,429.93" fill="#33CC33"/><polygon points="597.7,447.95 594.8,449.62 594.8,452.98 597.7,454.65 600.6,452.98 600.6,449.62" fill="#33CC33"/><polygon points="613.1,435.95 610.2,437.62 610.2,440.98 613.1,442.65 616,440.98 616,437.62" fill="#33CC33"/><polygon points="631.9,429.15 629,430.82 629,434.18 631.9,435.85 634.8,434.18 634.8,430.82" fill="#33CC33"/><polygon points="621.6,439.35 618.7,441.02 618.7,444.38 621.6,446.05 624.5,444.38 624.5,441.02" fill="#33CC33"/><polygon points="569.7,481.75 566.8,483.43 566.8,486.78 569.7,488.45 572.6,486.78 572.6,483.43" fill="#33CC33"/><polygon points="555.3,499.55 552.4,501.22 552.4,504.57 555.3,506.25 558.2,504.57 558.2,501.22" fill="#33CC33"/><polygon points="646.6,393.05 643.7,394.72 643.7,398.07 646.6,399.75 649.5,398.07 649.5,394.72" fill="#33CC33"/><polygon points="608,442.65 605.1,444.32 605.1,447.68 608,449.35 610.9,447.68 610.9,444.32" fill="#33CC33"/><polygon points="600,440.65 597.1,442.32 597.1,445.68 600,447.35 602.9,445.68 602.9,442.32" fill="#33CC33"/><polygon points="626,432.65 623.1,434.32 623.1,437.68 626,439.35 628.9,437.68 628.9,434.32" fill="#33CC33"/><polygon points="633,408.65 630.1,410.32 630.1,413.68 633,415.35 635.9,413.68 635.9,410.32" fill="#33CC33"/><polygon points="582.75,468.9 581.07,466 577.73,466 576.05,468.9 577.73,471.8 581.07,471.8" fill="#6B6B6B"/><polygon points="587.95,479.8 586.27,476.9 582.93,476.9 581.25,479.8 582.93,482.7 586.27,482.7" fill="#6B6B6B"/><polygon points="582.75,482 581.07,479.1 577.73,479.1 576.05,482 577.73,484.9 581.07,484.9" fill="#6B6B6B"/><polygon points="592.35,458.4 590.67,455.5 587.33,455.5 585.65,458.4 587.33,461.3 590.67,461.3" fill="#6B6B6B"/><polygon points="597.15,469.8 595.47,466.9 592.12,466.9 590.45,469.8 592.12,472.7 595.47,472.7" fill="#6B6B6B"/><polygon points="630.85,446.1 629.17,443.2 625.83,443.2 624.15,446.1 625.83,449 629.17,449" fill="#6B6B6B"/><polygon points="641.25,417.1 639.57,414.2 636.23,414.2 634.55,417.1 636.23,420 639.57,420" fill="#6B6B6B"/><polygon points="641.25,422.2 639.57,419.3 636.23,419.3 634.55,422.2 636.23,425.1 639.57,425.1" fill="#6B6B6B"/><polygon points="630.95,446.2 629.27,443.3 625.93,443.3 624.25,446.2 625.93,449.1 629.27,449.1" fill="#6B6B6B"/><path d="M586.4 473.3h5.2M589 470.7v5.2" stroke="#72A83A" stroke-width="1.6" fill="none"/><path d="M586.4 480.3h5.2M589 477.7v5.2" stroke="#72A83A" stroke-width="1.6" fill="none"/><path d="M576.8 478.5h5.2M579.4 475.9v5.2" stroke="#72A83A" stroke-width="1.6" fill="none"/><path d="M576.8 484.7h5.2M579.4 482.1v5.2" stroke="#72A83A" stroke-width="1.6" fill="none"/><path d="M591.2 468.9h5.2M593.8 466.3v5.2" stroke="#72A83A" stroke-width="1.6" fill="none"/><path d="M596 466.3h5.2M598.6 463.7v5.2" stroke="#72A83A" stroke-width="1.6" fill="none"/><path d="M600.4 454h5.2M603 451.4v5.2" stroke="#72A83A" stroke-width="1.6" fill="none"/><path d="M605.7 453.1h5.2M608.3 450.5v5.2" stroke="#72A83A" stroke-width="1.6" fill="none"/><path d="M605.7 459.3h5.2M608.3 456.7v5.2" stroke="#72A83A" stroke-width="1.6" fill="none"/><path d="M610.1 449.6h5.2M612.7 447v5.2" stroke="#72A83A" stroke-width="1.6" fill="none"/><path d="M615.3 446.1h5.2M617.9 443.5v5.2" stroke="#72A83A" stroke-width="1.6" fill="none"/><path d="M615.3 456.2h5.2M617.9 453.6v5.2" stroke="#72A83A" stroke-width="1.6" fill="none"/><path d="M619.7 451.4h5.2M622.3 448.8v5.2" stroke="#72A83A" stroke-width="1.6" fill="none"/><path d="M619.7 442.6h5.2M622.3 440v5.2" stroke="#72A83A" stroke-width="1.6" fill="none"/><path d="M629.3 424.8h5.2M631.9 422.2v5.2" stroke="#72A83A" stroke-width="1.6" fill="none"/><path d="M634.4 424.8h5.2M637 422.2v5.2" stroke="#72A83A" stroke-width="1.6" fill="none"/><path d="M625 432.5h5.2M627.6 429.9v5.2" stroke="#72A83A" stroke-width="1.6" fill="none"/><path d="M629.3 437.6h5.2M631.9 435v5.2" stroke="#72A83A" stroke-width="1.6" fill="none"/><path d="M619.9 442.7h5.2M622.5 440.1v5.2" stroke="#72A83A" stroke-width="1.6" fill="none"/><path d="M615.6 445.3h5.2M618.2 442.7v5.2" stroke="#72A83A" stroke-width="1.6" fill="none"/><path d="M601.1 453h5.2M603.7 450.4v5.2" stroke="#72A83A" stroke-width="1.6" fill="none"/><path d="M614.8 456.4h5.2M617.4 453.8v5.2" stroke="#72A83A" stroke-width="1.6" fill="none"/><path d="M619.9 451.3h5.2M622.5 448.7v5.2" stroke="#72A83A" stroke-width="1.6" fill="none"/><path d="M605.4 454.7h5.2M608 452.1v5.2" stroke="#72A83A" stroke-width="1.6" fill="none"/><path d="M561.9 486.8h5.2M564.5 484.2v5.2" stroke="#72A83A" stroke-width="1.6" fill="none"/><path d="M567.6 492.8h5.2M570.2 490.2v5.2" stroke="#72A83A" stroke-width="1.6" fill="none"/><path d="M644 396.4h5.2M646.6 393.8v5.2" stroke="#72A83A" stroke-width="1.6" fill="none"/><path d="M609.4 462h5.2M612 459.4v5.2" stroke="#72A83A" stroke-width="1.6" fill="none"/><path d="M599.4 459h5.2M602 456.4v5.2" stroke="#72A83A" stroke-width="1.6" fill="none"/><path d="M594.4 472h5.2M597 469.4v5.2" stroke="#72A83A" stroke-width="1.6" fill="none"/><path d="M617.4 462h5.2M620 459.4v5.2" stroke="#72A83A" stroke-width="1.6" fill="none"/><path d="M623.4 446h5.2M626 443.4v5.2" stroke="#72A83A" stroke-width="1.6" fill="none"/><path d="M611.4 442h5.2M614 439.4v5.2" stroke="#72A83A" stroke-width="1.6" fill="none"/><path d="M626.4 418h5.2M629 415.4v5.2" stroke="#72A83A" stroke-width="1.6" fill="none"/><path d="M633.4 418h5.2M636 415.4v5.2" stroke="#72A83A" stroke-width="1.6" fill="none"/><polygon points="603,443.3 599.62,449.15 606.38,449.15" fill="#FF5A43"/><polygon points="608.3,463 604.92,468.85 611.68,468.85" fill="#FF5A43"/><polygon points="603,464.7 599.62,470.55 606.38,470.55" fill="#FF5A43"/><polygon points="612.7,440.2 609.32,446.05 616.08,446.05" fill="#FF5A43"/><polygon points="617.9,439.3 614.52,445.15 621.28,445.15" fill="#FF5A43"/><polygon points="612.7,450.7 609.32,456.55 616.08,456.55" fill="#FF5A43"/><polygon points="617.9,446.3 614.52,452.15 621.28,452.15" fill="#FF5A43"/><polygon points="594.3,448.1 590.92,453.95 597.68,453.95" fill="#FF5A43"/><polygon points="584.6,457.7 581.22,463.55 587.98,463.55" fill="#FF5A43"/><polygon points="579.8,462.5 576.42,468.35 583.18,468.35" fill="#FF5A43"/><polygon points="637,407 633.62,412.85 640.38,412.85" fill="#FF5A43"/><polygon points="631.9,410.4 628.52,416.25 635.28,416.25" fill="#FF5A43"/><polygon points="627.6,424.9 624.22,430.75 630.98,430.75" fill="#FF5A43"/><polygon points="622.5,429.2 619.12,435.05 625.88,435.05" fill="#FF5A43"/><polygon points="616.9,431.7 613.52,437.55 620.28,437.55" fill="#FF5A43"/><polygon points="604.1,442.9 600.72,448.75 607.48,448.75" fill="#FF5A43"/><polygon points="612.7,441.1 609.32,446.95 616.08,446.95" fill="#FF5A43"/><polygon points="617.8,438.6 614.42,444.45 621.18,444.45" fill="#FF5A43"/><polygon points="617.8,446.3 614.42,452.15 621.18,452.15" fill="#FF5A43"/><polygon points="612.7,449.7 609.32,455.55 616.08,455.55" fill="#FF5A43"/><polygon points="607.1,452.3 603.72,458.15 610.48,458.15" fill="#FF5A43"/><polygon points="625.9,430.5 622.52,436.35 629.28,436.35" fill="#FF5A43"/><polygon points="526.8,487.9 523.42,493.75 530.18,493.75" fill="#FF5A43"/><polygon points="541,479.3 537.62,485.15 544.38,485.15" fill="#FF5A43"/><polygon points="545.8,487.9 542.42,493.75 549.18,493.75" fill="#FF5A43"/><polygon points="555.3,469.8 551.92,475.65 558.68,475.65" fill="#FF5A43"/><polygon points="560.3,478.4 556.92,484.25 563.68,484.25" fill="#FF5A43"/><polygon points="570.2,461.3 566.82,467.15 573.58,467.15" fill="#FF5A43"/><polygon points="570.2,469.9 566.82,475.75 573.58,475.75" fill="#FF5A43"/><polygon points="570.2,473.3 566.82,479.15 573.58,479.15" fill="#FF5A43"/><polygon points="579.9,462.2 576.52,468.05 583.28,468.05" fill="#FF5A43"/><polygon points="585,458.4 581.62,464.25 588.38,464.25" fill="#FF5A43"/><polygon points="646.6,393.1 643.22,398.95 649.98,398.95" fill="#FF5A43"/><polygon points="599,456.7 595.62,462.55 602.38,462.55" fill="#FF5A43"/><polygon points="606,447.7 602.62,453.55 609.38,453.55" fill="#FF5A43"/><polygon points="620,433.7 616.62,439.55 623.38,439.55" fill="#FF5A43"/><polygon points="625,437.7 621.62,443.55 628.38,443.55" fill="#FF5A43"/><polygon points="608,432.7 604.62,438.55 611.38,438.55" fill="#FF5A43"/><polygon points="630,416.7 626.62,422.55 633.38,422.55" fill="#FF5A43"/><polygon points="635,412.7 631.62,418.55 638.38,418.55" fill="#FF5A43"/><polygon points="440.4,531.5 439.52,533.89 436.98,533.99 438.97,535.56 438.28,538.01 440.4,536.6 442.52,538.01 441.83,535.56 443.82,533.99 441.28,533.89" fill="#FFD200"/><polygon points="464.2,511.6 463.32,513.99 460.78,514.09 462.77,515.66 462.08,518.11 464.2,516.7 466.32,518.11 465.63,515.66 467.62,514.09 465.08,513.99" fill="#FFD200"/><polygon points="488.5,504.4 487.62,506.79 485.08,506.89 487.07,508.46 486.38,510.91 488.5,509.5 490.62,510.91 489.93,508.46 491.92,506.89 489.38,506.79" fill="#FFD200"/><polygon points="493.2,477.8 492.32,480.19 489.78,480.29 491.77,481.86 491.08,484.31 493.2,482.9 495.32,484.31 494.63,481.86 496.62,480.29 494.08,480.19" fill="#FFD200"/><polygon points="512.2,469.8 511.32,472.19 508.78,472.29 510.77,473.86 510.08,476.31 512.2,474.9 514.32,476.31 513.63,473.86 515.62,472.29 513.08,472.19" fill="#FFD200"/><polygon points="512.2,473.1 511.32,475.49 508.78,475.59 510.77,477.16 510.08,479.61 512.2,478.2 514.32,479.61 513.63,477.16 515.62,475.59 513.08,475.49" fill="#FFD200"/><polygon points="526.8,477.4 525.92,479.79 523.38,479.89 525.37,481.46 524.68,483.91 526.8,482.5 528.92,483.91 528.23,481.46 530.22,479.89 527.68,479.79" fill="#FFD200"/><polygon points="531.5,462.6 530.62,464.99 528.08,465.09 530.07,466.66 529.38,469.11 531.5,467.7 533.62,469.11 532.93,466.66 534.92,465.09 532.38,464.99" fill="#FFD200"/><polygon points="536.3,474.2 535.42,476.59 532.88,476.69 534.87,478.26 534.18,480.71 536.3,479.3 538.42,480.71 537.73,478.26 539.72,476.69 537.18,476.59" fill="#FFD200"/><polygon points="536.3,456.6 535.42,458.99 532.88,459.09 534.87,460.66 534.18,463.11 536.3,461.7 538.42,463.11 537.73,460.66 539.72,459.09 537.18,458.99" fill="#FFD200"/><polygon points="545.8,461.3 544.92,463.69 542.38,463.79 544.37,465.36 543.68,467.81 545.8,466.4 547.92,467.81 547.23,465.36 549.22,463.79 546.68,463.69" fill="#FFD200"/><polygon points="550.5,448 549.62,450.39 547.08,450.49 549.07,452.06 548.38,454.51 550.5,453.1 552.62,454.51 551.93,452.06 553.92,450.49 551.38,450.39" fill="#FFD200"/><polygon points="555.3,446.5 554.42,448.89 551.88,448.99 553.87,450.56 553.18,453.01 555.3,451.6 557.42,453.01 556.73,450.56 558.72,448.99 556.18,448.89" fill="#FFD200"/><polygon points="598.6,418.9 597.72,421.29 595.18,421.39 597.17,422.96 596.48,425.41 598.6,424 600.72,425.41 600.03,422.96 602.02,421.39 599.48,421.29" fill="#FFD200"/><polygon points="608.4,419.3 607.52,421.69 604.98,421.79 606.97,423.36 606.28,425.81 608.4,424.4 610.52,425.81 609.83,423.36 611.82,421.79 609.28,421.69" fill="#FFD200"/><polygon points="612.2,420.6 611.32,422.99 608.78,423.09 610.77,424.66 610.08,427.11 612.2,425.7 614.32,427.11 613.63,424.66 615.62,423.09 613.08,422.99" fill="#FFD200"/><polygon points="622.5,421.5 621.62,423.89 619.08,423.99 621.07,425.56 620.38,428.01 622.5,426.6 624.62,428.01 623.93,425.56 625.92,423.99 623.38,423.89" fill="#FFD200"/><polygon points="627.6,418.9 626.72,421.29 624.18,421.39 626.17,422.96 625.48,425.41 627.6,424 629.72,425.41 629.03,422.96 631.02,421.39 628.48,421.29" fill="#FFD200"/><polygon points="631.9,402.7 631.02,405.09 628.48,405.19 630.47,406.76 629.78,409.21 631.9,407.8 634.02,409.21 633.33,406.76 635.32,405.19 632.78,405.09" fill="#FFD200"/><polygon points="565.4,438.2 564.52,440.59 561.98,440.69 563.97,442.26 563.28,444.71 565.4,443.3 567.52,444.71 566.83,442.26 568.82,440.69 566.28,440.59" fill="#FFD200"/><polygon points="574.8,436.5 573.92,438.89 571.38,438.99 573.37,440.56 572.68,443.01 574.8,441.6 576.92,443.01 576.23,440.56 578.22,438.99 575.68,438.89" fill="#FFD200"/><polygon points="584.2,435.2 583.32,437.59 580.78,437.69 582.77,439.26 582.08,441.71 584.2,440.3 586.32,441.71 585.63,439.26 587.62,437.69 585.08,437.59" fill="#FFD200"/><polygon points="589.3,434.5 588.42,436.89 585.88,436.99 587.87,438.56 587.18,441.01 589.3,439.6 591.42,441.01 590.73,438.56 592.72,436.99 590.18,436.89" fill="#FFD200"/><polygon points="550.9,447.6 550.02,449.99 547.48,450.09 549.47,451.66 548.78,454.11 550.9,452.7 553.02,454.11 552.33,451.66 554.32,450.09 551.78,449.99" fill="#FFD200"/><polygon points="556,445.9 555.12,448.29 552.58,448.39 554.57,449.96 553.88,452.41 556,451 558.12,452.41 557.43,449.96 559.42,448.39 556.88,448.29" fill="#FFD200"/><polygon points="560.3,461 559.42,463.39 556.88,463.49 558.87,465.06 558.18,467.51 560.3,466.1 562.42,467.51 561.73,465.06 563.72,463.49 561.18,463.39" fill="#FFD200"/><polygon points="565.4,460.5 564.52,462.89 561.98,462.99 563.97,464.56 563.28,467.01 565.4,465.6 567.52,467.01 566.83,464.56 568.82,462.99 566.28,462.89" fill="#FFD200"/><polygon points="579.4,448.5 578.52,450.89 575.98,450.99 577.97,452.56 577.28,455.01 579.4,453.6 581.52,455.01 580.83,452.56 582.82,450.99 580.28,450.89" fill="#FFD200"/><polygon points="584.2,453.8 583.32,456.19 580.78,456.29 582.77,457.86 582.08,460.31 584.2,458.9 586.32,460.31 585.63,457.86 587.62,456.29 585.08,456.19" fill="#FFD200"/><circle cx="440.4" cy="527.2" r="3.2" fill="#3C3C3C"/><circle cx="464.2" cy="518.1" r="3.2" fill="#3C3C3C"/><circle cx="464.2" cy="528.6" r="3.2" fill="#3C3C3C"/><circle cx="464.2" cy="539.6" r="3.2" fill="#3C3C3C"/><circle cx="483.7" cy="511.5" r="3.2" fill="#3C3C3C"/><circle cx="488.5" cy="515.8" r="3.2" fill="#3C3C3C"/><circle cx="493.2" cy="502.2" r="3.2" fill="#3C3C3C"/><circle cx="502.7" cy="488.3" r="3.2" fill="#3C3C3C"/><circle cx="507.4" cy="495.5" r="3.2" fill="#3C3C3C"/><circle cx="512.2" cy="494.4" r="3.2" fill="#3C3C3C"/><circle cx="512.2" cy="501.2" r="3.2" fill="#3C3C3C"/><circle cx="522" cy="473.1" r="3.2" fill="#3C3C3C"/><circle cx="531.5" cy="484.5" r="3.2" fill="#3C3C3C"/><circle cx="536.3" cy="481.7" r="3.2" fill="#3C3C3C"/><circle cx="541" cy="465.5" r="3.2" fill="#3C3C3C"/><circle cx="545.8" cy="456.1" r="3.2" fill="#3C3C3C"/><circle cx="559" cy="470.9" r="3.2" fill="#3C3C3C"/><circle cx="565.4" cy="449.2" r="3.2" fill="#3C3C3C"/><circle cx="570.2" cy="445.8" r="3.2" fill="#3C3C3C"/><circle cx="589" cy="442.6" r="3.2" fill="#3C3C3C"/><circle cx="593.8" cy="445.7" r="3.2" fill="#3C3C3C"/><circle cx="598.2" cy="447.9" r="3.2" fill="#3C3C3C"/><circle cx="560.3" cy="471.1" r="3.2" fill="#3C3C3C"/><circle cx="617.8" cy="422.6" r="3.2" fill="#3C3C3C"/></g>
<line x1="406.98" y1="634.39" x2="670.54" y2="372.59" stroke="#000" stroke-width="1.9" stroke-dasharray="5.6 2.4"/>
<path d="M406.98 647.5v-4.5M406.98 359.5v4.5M454.9 647.5v-4.5M454.9 359.5v4.5M502.82 647.5v-4.5M502.82 359.5v4.5M550.74 647.5v-4.5M550.74 359.5v4.5M598.66 647.5v-4.5M598.66 359.5v4.5M646.58 647.5v-4.5M646.58 359.5v4.5M397.39 647.5v-2.3M397.39 359.5v2.3M416.56 647.5v-2.3M416.56 359.5v2.3M426.15 647.5v-2.3M426.15 359.5v2.3M435.73 647.5v-2.3M435.73 359.5v2.3M445.31 647.5v-2.3M445.31 359.5v2.3M464.48 647.5v-2.3M464.48 359.5v2.3M474.07 647.5v-2.3M474.07 359.5v2.3M483.65 647.5v-2.3M483.65 359.5v2.3M493.23 647.5v-2.3M493.23 359.5v2.3M512.4 647.5v-2.3M512.4 359.5v2.3M521.99 647.5v-2.3M521.99 359.5v2.3M531.57 647.5v-2.3M531.57 359.5v2.3M541.15 647.5v-2.3M541.15 359.5v2.3M560.32 647.5v-2.3M560.32 359.5v2.3M569.91 647.5v-2.3M569.91 359.5v2.3M579.49 647.5v-2.3M579.49 359.5v2.3M589.07 647.5v-2.3M589.07 359.5v2.3M608.24 647.5v-2.3M608.24 359.5v2.3M617.83 647.5v-2.3M617.83 359.5v2.3M627.41 647.5v-2.3M627.41 359.5v2.3M636.99 647.5v-2.3M636.99 359.5v2.3M656.16 647.5v-2.3M656.16 359.5v2.3M665.75 647.5v-2.3M665.75 359.5v2.3M675.33 647.5v-2.3M675.33 359.5v2.3M393.8 634.39h4.5M683.7 634.39h-4.5M393.8 586.79h4.5M683.7 586.79h-4.5M393.8 539.19h4.5M683.7 539.19h-4.5M393.8 491.59h4.5M683.7 491.59h-4.5M393.8 443.99h4.5M683.7 443.99h-4.5M393.8 396.39h4.5M683.7 396.39h-4.5M393.8 643.91h2.3M683.7 643.91h-2.3M393.8 624.87h2.3M683.7 624.87h-2.3M393.8 615.35h2.3M683.7 615.35h-2.3M393.8 605.83h2.3M683.7 605.83h-2.3M393.8 596.31h2.3M683.7 596.31h-2.3M393.8 577.27h2.3M683.7 577.27h-2.3M393.8 567.75h2.3M683.7 567.75h-2.3M393.8 558.23h2.3M683.7 558.23h-2.3M393.8 548.71h2.3M683.7 548.71h-2.3M393.8 529.67h2.3M683.7 529.67h-2.3M393.8 520.15h2.3M683.7 520.15h-2.3M393.8 510.63h2.3M683.7 510.63h-2.3M393.8 501.11h2.3M683.7 501.11h-2.3M393.8 482.07h2.3M683.7 482.07h-2.3M393.8 472.55h2.3M683.7 472.55h-2.3M393.8 463.03h2.3M683.7 463.03h-2.3M393.8 453.51h2.3M683.7 453.51h-2.3M393.8 434.47h2.3M683.7 434.47h-2.3M393.8 424.95h2.3M683.7 424.95h-2.3M393.8 415.43h2.3M683.7 415.43h-2.3M393.8 405.91h2.3M683.7 405.91h-2.3M393.8 386.87h2.3M683.7 386.87h-2.3M393.8 377.35h2.3M683.7 377.35h-2.3M393.8 367.83h2.3M683.7 367.83h-2.3" stroke="#000" stroke-width="0.75" fill="none"/>
<rect x="393.8" y="359.5" width="289.9" height="288" fill="none" stroke="#000" stroke-width="0.85"/>
<text x="406.98" y="661.1" font-size="11.6" text-anchor="middle" fill="#1a1a1a" textLength="16.6" lengthAdjust="spacingAndGlyphs" >0.5</text>
<text x="454.9" y="661.1" font-size="11.6" text-anchor="middle" fill="#1a1a1a" textLength="16.6" lengthAdjust="spacingAndGlyphs" >0.6</text>
<text x="502.82" y="661.1" font-size="11.6" text-anchor="middle" fill="#1a1a1a" textLength="16.6" lengthAdjust="spacingAndGlyphs" >0.7</text>
<text x="550.74" y="661.1" font-size="11.6" text-anchor="middle" fill="#1a1a1a" textLength="16.6" lengthAdjust="spacingAndGlyphs" >0.8</text>
<text x="598.66" y="661.1" font-size="11.6" text-anchor="middle" fill="#1a1a1a" textLength="16.6" lengthAdjust="spacingAndGlyphs" >0.9</text>
<text x="646.58" y="661.1" font-size="11.6" text-anchor="middle" fill="#1a1a1a" textLength="16.6" lengthAdjust="spacingAndGlyphs" >1.0</text>
<text x="388.4" y="638.29" font-size="11.6" text-anchor="end" fill="#1a1a1a" textLength="16.6" lengthAdjust="spacingAndGlyphs" >0.5</text>
<text x="388.4" y="590.69" font-size="11.6" text-anchor="end" fill="#1a1a1a" textLength="16.6" lengthAdjust="spacingAndGlyphs" >0.6</text>
<text x="388.4" y="543.09" font-size="11.6" text-anchor="end" fill="#1a1a1a" textLength="16.6" lengthAdjust="spacingAndGlyphs" >0.7</text>
<text x="388.4" y="495.49" font-size="11.6" text-anchor="end" fill="#1a1a1a" textLength="16.6" lengthAdjust="spacingAndGlyphs" >0.8</text>
<text x="388.4" y="447.89" font-size="11.6" text-anchor="end" fill="#1a1a1a" textLength="16.6" lengthAdjust="spacingAndGlyphs" >0.9</text>
<text x="388.4" y="400.29" font-size="11.6" text-anchor="end" fill="#1a1a1a" textLength="16.6" lengthAdjust="spacingAndGlyphs" >1.0</text>
<rect x="531.5" y="515.3" width="147" height="126.1" rx="2" fill="#fff" stroke="#c8c8c8" stroke-width="1"/>
<path d="M544.3 522.3L549.1 527.1M544.3 527.1L549.1 522.3" stroke="#0B4E96" stroke-width="1.7" fill="none"/>
<text x="566.6" y="528.3" font-size="11.5" text-anchor="start" fill="#1a1a1a" textLength="97" lengthAdjust="spacingAndGlyphs" >1000 mHz PC-PD</text>
<circle cx="546.7" cy="540.1" r="3.2" fill="#26B3B0"/>
<text x="566.6" y="543.7" font-size="11.5" text-anchor="start" fill="#1a1a1a" textLength="106.3" lengthAdjust="spacingAndGlyphs" >1000 mHz PC-NPD</text>
<polygon points="546.7,552.15 543.8,553.82 543.8,557.17 546.7,558.85 549.6,557.17 549.6,553.82" fill="#33CC33"/>
<text x="566.6" y="559.1" font-size="11.5" text-anchor="start" fill="#1a1a1a" textLength="90.7" lengthAdjust="spacingAndGlyphs" >500 mHz PC-PD</text>
<polygon points="550.05,570.9 548.38,568 545.03,568 543.35,570.9 545.03,573.8 548.38,573.8" fill="#6B6B6B"/>
<text x="566.6" y="574.5" font-size="11.5" text-anchor="start" fill="#1a1a1a" textLength="90.7" lengthAdjust="spacingAndGlyphs" >320 mHz PC-PD</text>
<path d="M544.1 586.3h5.2M546.7 583.7v5.2" stroke="#72A83A" stroke-width="1.6" fill="none"/>
<text x="566.6" y="589.9" font-size="11.5" text-anchor="start" fill="#1a1a1a" textLength="90.7" lengthAdjust="spacingAndGlyphs" >100 mHz PC-PD</text>
<polygon points="546.7,598.4 543.32,604.25 550.08,604.25" fill="#FF5A43"/>
<text x="566.6" y="605.3" font-size="11.5" text-anchor="start" fill="#1a1a1a" textLength="100" lengthAdjust="spacingAndGlyphs" >100 mHz PC-NPD</text>
<polygon points="546.7,613.8 545.82,616.19 543.28,616.29 545.27,617.86 544.58,620.31 546.7,618.9 548.82,620.31 548.13,617.86 550.12,616.29 547.58,616.19" fill="#FFD200"/>
<text x="566.6" y="620.7" font-size="11.5" text-anchor="start" fill="#1a1a1a" textLength="84.1" lengthAdjust="spacingAndGlyphs" >10 mHz PC-PD</text>
<circle cx="546.7" cy="632.5" r="3.2" fill="#3C3C3C"/>
<text x="566.6" y="636.1" font-size="11.5" text-anchor="start" fill="#1a1a1a" textLength="35.8" lengthAdjust="spacingAndGlyphs" >CC-ref</text>
<text x="538.75" y="677.5" font-size="12" text-anchor="middle" fill="#1a1a1a" textLength="37.6" lengthAdjust="spacingAndGlyphs" >SoH [-]</text>
<g transform="translate(363.4,536.6) rotate(-90)" fill="#1a1a1a"><path d="M0 0L8.2 0L4.1 -8.2ZM0.95 -0.8L6.45 -0.8L3.8 -6.3Z" fill="#1a1a1a" fill-rule="evenodd"/><text x="8.8" y="0" font-size="12.2" font-style="italic" textLength="9.1" lengthAdjust="spacingAndGlyphs">Q</text><text x="19.1" y="1.8" font-size="8.7" textLength="31.8" lengthAdjust="spacingAndGlyphs">PE-NE</text><text x="56.8" y="0" font-size="11.8" textLength="10.4" lengthAdjust="spacingAndGlyphs">[-]</text></g>
<text x="544.7" y="699.1" font-size="13.2" text-anchor="middle" fill="#1a1a1a" >(d)</text>
</svg></body></html>
